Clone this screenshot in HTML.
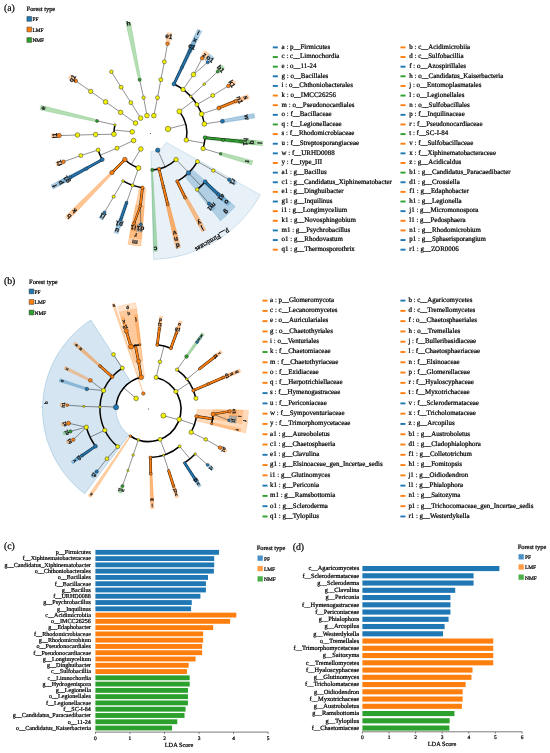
<!DOCTYPE html>
<html lang="en"><head><meta charset="utf-8"><title>LEfSe cladograms and LDA scores</title>
<style>html,body{margin:0;padding:0;background:#fff}svg{display:block}</style></head>
<body>
<svg width="550" height="753" viewBox="0 0 550 753" font-family='&quot;Liberation Serif&quot;,&quot;Times New Roman&quot;,serif' text-rendering="geometricPrecision" stroke-linejoin="round">
<rect width="550" height="753" fill="#fff"/>
<text x="3.9" y="11.3" font-size="9.8" fill="#000" stroke="#000" stroke-width="0.22">(a)</text>
<text x="3.9" y="283.7" font-size="9.8" fill="#000" stroke="#000" stroke-width="0.22">(b)</text>
<text x="4" y="548.7" font-size="9.8" fill="#000" stroke="#000" stroke-width="0.22">(c)</text>
<text x="292.7" y="549.6" font-size="9.8" fill="#000" stroke="#000" stroke-width="0.22">(d)</text>
<text x="26.6" y="11.3" font-size="6.4" fill="#000" stroke="#000" stroke-width="0.22">Forest type</text>
<rect x="26.9" y="16.5" width="4.8" height="4.8" fill="#1f77b4" stroke="#3a3a3a" stroke-width="0.5"/>
<text x="32.4" y="21.2" font-size="5.4" fill="#000" stroke="#000" stroke-width="0.22">PF</text>
<rect x="26.9" y="27.05" width="4.8" height="4.8" fill="#ff7f0e" stroke="#3a3a3a" stroke-width="0.5"/>
<text x="32.4" y="31.75" font-size="5.4" fill="#000" stroke="#000" stroke-width="0.22">LMF</text>
<rect x="26.9" y="37.6" width="4.8" height="4.8" fill="#2ca02c" stroke="#3a3a3a" stroke-width="0.5"/>
<text x="32.4" y="42.3" font-size="5.4" fill="#000" stroke="#000" stroke-width="0.22">NMF</text>
<text x="29.1" y="283.7" font-size="6.4" fill="#000" stroke="#000" stroke-width="0.22">Forest type</text>
<rect x="29.1" y="289" width="4.8" height="4.8" fill="#1f77b4" stroke="#3a3a3a" stroke-width="0.5"/>
<text x="34.6" y="293.7" font-size="5.4" fill="#000" stroke="#000" stroke-width="0.22">PF</text>
<rect x="29.1" y="299.55" width="4.8" height="4.8" fill="#ff7f0e" stroke="#3a3a3a" stroke-width="0.5"/>
<text x="34.6" y="304.25" font-size="5.4" fill="#000" stroke="#000" stroke-width="0.22">LMF</text>
<rect x="29.1" y="310.1" width="4.8" height="4.8" fill="#2ca02c" stroke="#3a3a3a" stroke-width="0.5"/>
<text x="34.6" y="314.8" font-size="5.4" fill="#000" stroke="#000" stroke-width="0.22">NMF</text>
<text x="256.7" y="550.4" font-size="6.4" fill="#000" stroke="#000" stroke-width="0.22">Forest type</text>
<rect x="257.8" y="555.8" width="4.8" height="4.8" fill="#4a90c9" stroke="#4a90c9" stroke-width="0.5"/>
<text x="264" y="560.5" font-size="5.4" fill="#000" stroke="#000" stroke-width="0.22">PF</text>
<rect x="257.8" y="566.15" width="4.8" height="4.8" fill="#ff9a45" stroke="#ff9a45" stroke-width="0.5"/>
<text x="264" y="570.85" font-size="5.4" fill="#000" stroke="#000" stroke-width="0.22">LMF</text>
<rect x="257.8" y="576.5" width="4.8" height="4.8" fill="#4db04d" stroke="#4db04d" stroke-width="0.5"/>
<text x="264" y="581.2" font-size="5.4" fill="#000" stroke="#000" stroke-width="0.22">NMF</text>
<text x="517.7" y="548.9" font-size="6.4" fill="#000" stroke="#000" stroke-width="0.22">Forest type</text>
<rect x="518.8" y="554.4" width="4.8" height="4.8" fill="#4a90c9" stroke="#4a90c9" stroke-width="0.5"/>
<text x="525" y="559.1" font-size="5.4" fill="#000" stroke="#000" stroke-width="0.22">PF</text>
<rect x="518.8" y="564.6" width="4.8" height="4.8" fill="#ff9a45" stroke="#ff9a45" stroke-width="0.5"/>
<text x="525" y="569.3" font-size="5.4" fill="#000" stroke="#000" stroke-width="0.22">LMF</text>
<rect x="518.8" y="574.8" width="4.8" height="4.8" fill="#4db04d" stroke="#4db04d" stroke-width="0.5"/>
<text x="525" y="579.5" font-size="5.4" fill="#000" stroke="#000" stroke-width="0.22">NMF</text>
<g>
<path d="M150.88 151.69L153.7 259.46A126 126 0 0 0 260.39 194.97L166.29 142.38A18.2 18.2 0 0 1 150.88 151.69Z" fill="#1f77b4" fill-opacity="0.1" stroke="#1f77b4" stroke-opacity="0.35" stroke-width="0.5"/>
<path d="M151.42 169.99L153.69 251.45A118 118 0 0 0 157.4 251.29L152.56 169.94A36.5 36.5 0 0 1 151.42 169.99Z" fill="#2ca02c" fill-opacity="0.35" stroke="#2ca02c" stroke-opacity="0.52" stroke-width="0.35"/>
<path d="M158.3 169.13L175.94 248.7A118 118 0 0 0 180.74 247.53L159.79 168.77A36.5 36.5 0 0 1 158.3 169.13Z" fill="#ff7f0e" fill-opacity="0.35" stroke="#ff7f0e" stroke-opacity="0.52" stroke-width="0.35"/>
<path d="M162.26 187L174.53 242.36A111.5 111.5 0 0 0 179.07 241.25L164.49 186.46A54.8 54.8 0 0 1 162.26 187Z" fill="#ff7f0e" fill-opacity="0.2" stroke="#ff7f0e" stroke-opacity="0.3" stroke-width="0.35"/>
<path d="M166.2 204.77L173.23 236.5A105.5 105.5 0 0 0 177.53 235.45L169.17 204.05A73 73 0 0 1 166.2 204.77Z" fill="#ff7f0e" fill-opacity="0.2" stroke="#ff7f0e" stroke-opacity="0.3" stroke-width="0.35"/>
<path d="M175.79 182.06L201.83 231.87A111 111 0 0 0 205.9 229.63L177.8 180.96A54.8 54.8 0 0 1 175.79 182.06Z" fill="#ff7f0e" fill-opacity="0.35" stroke="#ff7f0e" stroke-opacity="0.52" stroke-width="0.35"/>
<path d="M184.22 198.19L199.05 226.55A105 105 0 0 0 202.9 224.43L186.9 196.72A73 73 0 0 1 184.22 198.19Z" fill="#ff7f0e" fill-opacity="0.2" stroke="#ff7f0e" stroke-opacity="0.3" stroke-width="0.35"/>
<path d="M184.66 176.27L220.43 220.91A112 112 0 0 0 235.31 206.54L191.95 169.23A54.8 54.8 0 0 1 184.66 176.27Z" fill="#1f77b4" fill-opacity="0.28" stroke="#1f77b4" stroke-opacity="0.42" stroke-width="0.35"/>
<path d="M203.7 183.38L227.58 205.72A105.7 105.7 0 0 0 230.53 202.43L205.74 181.1A73 73 0 0 1 203.7 183.38Z" fill="#1f77b4" fill-opacity="0.3" stroke="#1f77b4" stroke-opacity="0.45" stroke-width="0.35"/>
<path d="M217.06 195.88L222.69 201.14A99 99 0 0 0 225.46 198.06L219.62 193.04A91.3 91.3 0 0 1 217.06 195.88Z" fill="#1f77b4" fill-opacity="0.2" stroke="#1f77b4" stroke-opacity="0.3" stroke-width="0.35"/>
<path d="M207.48 204.75L212.3 210.76A99 99 0 0 0 215.48 208.1L210.42 202.3A91.3 91.3 0 0 1 207.48 204.75Z" fill="#1f77b4" fill-opacity="0.25" stroke="#1f77b4" stroke-opacity="0.38" stroke-width="0.35"/>
<path d="M228.16 181.34L234.72 185.37A99 99 0 0 0 236.82 181.8L230.1 178.04A91.3 91.3 0 0 1 228.16 181.34Z" fill="#1f77b4" fill-opacity="0.3" stroke="#1f77b4" stroke-opacity="0.45" stroke-width="0.35"/>
<path d="M140.79 79.55L130.5 21.76A113.5 113.5 0 0 0 125.83 22.69L138.54 80A54.8 54.8 0 0 1 140.79 79.55Z" fill="#2ca02c" fill-opacity="0.35" stroke="#2ca02c" stroke-opacity="0.52" stroke-width="0.35"/>
<path d="M97.35 119.78L41 105.21A113 113 0 0 0 39.91 109.81L96.82 122.01A54.8 54.8 0 0 1 97.35 119.78Z" fill="#2ca02c" fill-opacity="0.35" stroke="#2ca02c" stroke-opacity="0.52" stroke-width="0.35"/>
<path d="M169.38 44.2L171.71 33.24A102.5 102.5 0 0 0 167.49 32.44L165.63 43.48A91.3 91.3 0 0 1 169.38 44.2Z" fill="#ff7f0e" fill-opacity="0.35" stroke="#ff7f0e" stroke-opacity="0.52" stroke-width="0.35"/>
<path d="M76.91 79.32L70.72 74.75A99 99 0 0 0 68.33 78.14L74.71 82.45A91.3 91.3 0 0 1 76.91 79.32Z" fill="#ff7f0e" fill-opacity="0.35" stroke="#ff7f0e" stroke-opacity="0.52" stroke-width="0.35"/>
<path d="M59.1 133.66L51.4 133.67A99 99 0 0 0 51.49 137.82L59.19 137.48A91.3 91.3 0 0 1 59.1 133.66Z" fill="#ff7f0e" fill-opacity="0.35" stroke="#ff7f0e" stroke-opacity="0.52" stroke-width="0.35"/>
<path d="M63 159.89L55.63 162.11A99 99 0 0 0 56.91 166.06L64.18 163.53A91.3 91.3 0 0 1 63 159.89Z" fill="#ff7f0e" fill-opacity="0.35" stroke="#ff7f0e" stroke-opacity="0.52" stroke-width="0.35"/>
<path d="M101.75 158.72L50.96 185.04A112 112 0 0 0 53.21 189.16L102.85 160.73A54.8 54.8 0 0 1 101.75 158.72Z" fill="#1f77b4" fill-opacity="0.35" stroke="#1f77b4" stroke-opacity="0.52" stroke-width="0.35"/>
<path d="M85.59 167.09L56.74 182.05A105.5 105.5 0 0 0 58.85 185.93L87.05 169.78A73 73 0 0 1 85.59 167.09Z" fill="#1f77b4" fill-opacity="0.2" stroke="#1f77b4" stroke-opacity="0.3" stroke-width="0.35"/>
<path d="M69.34 175.52L62.51 179.06A99 99 0 0 0 64.49 182.7L71.17 178.87A91.3 91.3 0 0 1 69.34 175.52Z" fill="#1f77b4" fill-opacity="0.2" stroke="#1f77b4" stroke-opacity="0.3" stroke-width="0.35"/>
<path d="M124.28 158.99L65.23 216.61A119 119 0 0 0 68.79 220.1L125.37 160.06A36.5 36.5 0 0 1 124.28 158.99Z" fill="#ff7f0e" fill-opacity="0.35" stroke="#ff7f0e" stroke-opacity="0.52" stroke-width="0.35"/>
<path d="M111.18 171.77L70.24 211.72A112 112 0 0 0 73.59 215.01L112.82 173.38A54.8 54.8 0 0 1 111.18 171.77Z" fill="#ff7f0e" fill-opacity="0.15" stroke="#ff7f0e" stroke-opacity="0.22" stroke-width="0.35"/>
<path d="M102.83 211.43L98.82 218A99 99 0 0 0 102.4 220.09L106.14 213.35A91.3 91.3 0 0 1 102.83 211.43Z" fill="#1f77b4" fill-opacity="0.35" stroke="#1f77b4" stroke-opacity="0.52" stroke-width="0.35"/>
<path d="M125.19 202.01L113.97 232.51A105.5 105.5 0 0 0 118.15 233.95L128.08 203.01A73 73 0 0 1 125.19 202.01Z" fill="#1f77b4" fill-opacity="0.35" stroke="#1f77b4" stroke-opacity="0.52" stroke-width="0.35"/>
<path d="M118.87 219.18L116.22 226.41A99 99 0 0 0 120.14 227.76L122.49 220.43A91.3 91.3 0 0 1 118.87 219.18Z" fill="#1f77b4" fill-opacity="0.2" stroke="#1f77b4" stroke-opacity="0.3" stroke-width="0.35"/>
<path d="M139.47 187.2L127.87 244.23A113 113 0 0 0 140.94 246.1L145.81 188.11A54.8 54.8 0 0 1 139.47 187.2Z" fill="#ff7f0e" fill-opacity="0.35" stroke="#ff7f0e" stroke-opacity="0.52" stroke-width="0.35"/>
<path d="M135.85 205.03L129.27 237.37A106 106 0 0 0 141.53 239.13L144.29 206.24A73 73 0 0 1 135.85 205.03Z" fill="#ff7f0e" fill-opacity="0.25" stroke="#ff7f0e" stroke-opacity="0.38" stroke-width="0.35"/>
<path d="M132.2 222.97L130.66 230.51A99 99 0 0 0 136.37 231.5L137.46 223.88A91.3 91.3 0 0 1 132.2 222.97Z" fill="#ff7f0e" fill-opacity="0.25" stroke="#ff7f0e" stroke-opacity="0.38" stroke-width="0.35"/>
<path d="M137.46 223.88L136.37 231.5A99 99 0 0 0 142.12 232.15L142.76 224.48A91.3 91.3 0 0 1 137.46 223.88Z" fill="#1f77b4" fill-opacity="0.3" stroke="#1f77b4" stroke-opacity="0.45" stroke-width="0.35"/>
<path d="M175.02 84.54L201.85 31.21A114.5 114.5 0 0 0 197.52 29.14L172.95 83.56A54.8 54.8 0 0 1 175.02 84.54Z" fill="#1f77b4" fill-opacity="0.35" stroke="#1f77b4" stroke-opacity="0.52" stroke-width="0.35"/>
<path d="M183.2 68.28L198.7 37.46A107.5 107.5 0 0 0 194.64 35.52L180.44 66.97A73 73 0 0 1 183.2 68.28Z" fill="#1f77b4" fill-opacity="0.2" stroke="#1f77b4" stroke-opacity="0.3" stroke-width="0.35"/>
<path d="M191.42 51.94L195.33 44.16A100 100 0 0 0 191.55 42.36L187.97 50.29A91.3 91.3 0 0 1 191.42 51.94Z" fill="#1f77b4" fill-opacity="0.2" stroke="#1f77b4" stroke-opacity="0.3" stroke-width="0.35"/>
<path d="M204.9 60.25L209.5 54.07A99 99 0 0 0 204.75 50.76L200.53 57.19A91.3 91.3 0 0 1 204.9 60.25Z" fill="#ff7f0e" fill-opacity="0.35" stroke="#ff7f0e" stroke-opacity="0.52" stroke-width="0.35"/>
<path d="M209.09 63.56L214.04 57.66A99 99 0 0 0 209.5 54.07L204.9 60.25A91.3 91.3 0 0 1 209.09 63.56Z" fill="#1f77b4" fill-opacity="0.35" stroke="#1f77b4" stroke-opacity="0.52" stroke-width="0.35"/>
<path d="M218.89 73.12L224.66 68.03A99 99 0 0 0 221.85 64.98L216.3 70.31A91.3 91.3 0 0 1 218.89 73.12Z" fill="#2ca02c" fill-opacity="0.35" stroke="#2ca02c" stroke-opacity="0.52" stroke-width="0.35"/>
<path d="M229.31 87.57L235.96 83.7A99 99 0 0 0 233.8 80.16L227.32 84.31A91.3 91.3 0 0 1 229.31 87.57Z" fill="#ff7f0e" fill-opacity="0.35" stroke="#ff7f0e" stroke-opacity="0.52" stroke-width="0.35"/>
<path d="M219.26 109.25L249.44 98.62A105 105 0 0 0 247.89 94.51L218.18 106.39A73 73 0 0 1 219.26 109.25Z" fill="#ff7f0e" fill-opacity="0.35" stroke="#ff7f0e" stroke-opacity="0.52" stroke-width="0.35"/>
<path d="M236.52 103.17L243.78 100.62A99 99 0 0 0 242.32 96.73L235.17 99.59A91.3 91.3 0 0 1 236.52 103.17Z" fill="#ff7f0e" fill-opacity="0.2" stroke="#ff7f0e" stroke-opacity="0.3" stroke-width="0.35"/>
<path d="M222.6 122.71L254.74 117.91A105.5 105.5 0 0 0 254 113.55L222.08 119.7A73 73 0 0 1 222.6 122.71Z" fill="#1f77b4" fill-opacity="0.38" stroke="#1f77b4" stroke-opacity="0.57" stroke-width="0.35"/>
<path d="M204.88 139.42L262.34 145.66A112.6 112.6 0 0 0 262.75 140.96L205.08 137.13A54.8 54.8 0 0 1 204.88 139.42Z" fill="#2ca02c" fill-opacity="0.35" stroke="#2ca02c" stroke-opacity="0.52" stroke-width="0.35"/>
<path d="M222.97 141.38L255.28 144.89A105.5 105.5 0 0 0 255.67 140.49L223.24 138.34A73 73 0 0 1 222.97 141.38Z" fill="#2ca02c" fill-opacity="0.2" stroke="#2ca02c" stroke-opacity="0.3" stroke-width="0.35"/>
<path d="M241.17 143.36L248.82 144.19A99 99 0 0 0 249.18 140.06L241.5 139.55A91.3 91.3 0 0 1 241.17 143.36Z" fill="#2ca02c" fill-opacity="0.2" stroke="#2ca02c" stroke-opacity="0.3" stroke-width="0.35"/>
<path d="M220.1 155.21L251.6 165.02A106 106 0 0 0 252.84 160.76L220.95 152.27A73 73 0 0 1 220.1 155.21Z" fill="#2ca02c" fill-opacity="0.35" stroke="#2ca02c" stroke-opacity="0.52" stroke-width="0.35"/>
</g><g>
<line x1="146.93" y1="115.63" x2="143.62" y2="97.63" stroke="#222" stroke-width="0.5" stroke-linecap="butt"/>
<line x1="143.62" y1="97.63" x2="139.66" y2="79.76" stroke="#222" stroke-width="0.5" stroke-linecap="butt"/>
<line x1="153.87" y1="115.63" x2="157.49" y2="97.7" stroke="#222" stroke-width="0.5" stroke-linecap="butt"/>
<line x1="157.49" y1="97.7" x2="160.86" y2="79.71" stroke="#222" stroke-width="0.5" stroke-linecap="butt"/>
<line x1="160.86" y1="79.71" x2="164.33" y2="61.84" stroke="#222" stroke-width="0.5" stroke-linecap="butt"/>
<line x1="164.33" y1="61.84" x2="167.51" y2="43.82" stroke="#222" stroke-width="0.5" stroke-linecap="butt"/>
<line x1="140.65" y1="118.13" x2="130.9" y2="102.65" stroke="#222" stroke-width="0.5" stroke-linecap="butt"/>
<line x1="130.9" y1="102.65" x2="121.12" y2="87.18" stroke="#222" stroke-width="0.5" stroke-linecap="butt"/>
<line x1="121.12" y1="87.18" x2="111.39" y2="71.8" stroke="#222" stroke-width="0.5" stroke-linecap="butt"/>
<line x1="135.51" y1="123.03" x2="120.65" y2="112.36" stroke="#222" stroke-width="0.5" stroke-linecap="butt"/>
<line x1="120.65" y1="112.36" x2="105.62" y2="101.91" stroke="#222" stroke-width="0.5" stroke-linecap="butt"/>
<line x1="105.62" y1="101.91" x2="90.75" y2="91.42" stroke="#222" stroke-width="0.5" stroke-linecap="butt"/>
<line x1="90.75" y1="91.42" x2="75.79" y2="80.87" stroke="#222" stroke-width="0.5" stroke-linecap="butt"/>
<line x1="132.28" y1="131.79" x2="114.06" y2="130.07" stroke="#222" stroke-width="0.5" stroke-linecap="butt"/>
<path d="M114.92 124.92A36.5 36.5 0 0 0 113.91 134.2" fill="none" stroke="#000" stroke-width="1.5" stroke-linecap="round"/>
<line x1="114.92" y1="124.92" x2="97.07" y2="120.89" stroke="#222" stroke-width="0.5" stroke-linecap="butt"/>
<line x1="113.91" y1="134.2" x2="95.61" y2="134.55" stroke="#222" stroke-width="0.5" stroke-linecap="butt"/>
<line x1="95.61" y1="134.55" x2="77.42" y2="135.03" stroke="#222" stroke-width="0.5" stroke-linecap="butt"/>
<line x1="77.42" y1="135.03" x2="59.12" y2="135.57" stroke="#222" stroke-width="0.5" stroke-linecap="butt"/>
<line x1="133.6" y1="140.49" x2="116.98" y2="148.17" stroke="#222" stroke-width="0.5" stroke-linecap="butt"/>
<line x1="116.98" y1="148.17" x2="100.11" y2="155.26" stroke="#222" stroke-width="0.5" stroke-linecap="butt"/>
<path d="M98.14 149.98A54.8 54.8 0 0 0 102.2 159.56" fill="none" stroke="#000" stroke-width="1.5" stroke-linecap="round"/>
<line x1="98.14" y1="149.98" x2="80.82" y2="155.57" stroke="#222" stroke-width="0.5" stroke-linecap="butt"/>
<line x1="80.82" y1="155.57" x2="63.57" y2="161.71" stroke="#222" stroke-width="0.5" stroke-linecap="butt"/>
<line x1="102.2" y1="159.56" x2="70.32" y2="177.34" stroke="#1a1a1a" stroke-width="2.7" stroke-linecap="round"/>
<line x1="102.2" y1="159.56" x2="70.32" y2="177.34" stroke="#1f77b4" stroke-width="1.85" stroke-linecap="round"/>
<line x1="140.84" y1="148.98" x2="131.22" y2="164.55" stroke="#222" stroke-width="0.5" stroke-linecap="butt"/>
<path d="M124.86 159.58A36.5 36.5 0 0 0 138.52 168.01" fill="none" stroke="#000" stroke-width="1.5" stroke-linecap="round"/>
<line x1="124.86" y1="159.58" x2="111.99" y2="172.59" stroke="#1a1a1a" stroke-width="2.7" stroke-linecap="round"/>
<line x1="124.86" y1="159.58" x2="111.99" y2="172.59" stroke="#ff7f0e" stroke-width="1.85" stroke-linecap="round"/>
<line x1="138.52" y1="168.01" x2="132.56" y2="185.31" stroke="#222" stroke-width="0.5" stroke-linecap="butt"/>
<path d="M123 180.96A54.8 54.8 0 0 0 142.49 187.73" fill="none" stroke="#000" stroke-width="1.5" stroke-linecap="round"/>
<line x1="123" y1="180.96" x2="113.68" y2="196.59" stroke="#222" stroke-width="0.5" stroke-linecap="butt"/>
<line x1="113.68" y1="196.59" x2="104.47" y2="212.41" stroke="#222" stroke-width="0.5" stroke-linecap="butt"/>
<line x1="132.56" y1="185.31" x2="126.63" y2="202.52" stroke="#222" stroke-width="0.5" stroke-linecap="butt"/>
<line x1="126.63" y1="202.52" x2="120.68" y2="219.83" stroke="#1a1a1a" stroke-width="2.7" stroke-linecap="round"/>
<line x1="126.63" y1="202.52" x2="120.68" y2="219.83" stroke="#1f77b4" stroke-width="1.85" stroke-linecap="round"/>
<line x1="142.49" y1="187.73" x2="140.37" y2="205.81" stroke="#1a1a1a" stroke-width="2.7" stroke-linecap="round"/>
<line x1="142.49" y1="187.73" x2="140.37" y2="205.81" stroke="#ff7f0e" stroke-width="1.85" stroke-linecap="round"/>
<line x1="140.37" y1="205.81" x2="134.08" y2="223.33" stroke="#1a1a1a" stroke-width="2.15" stroke-linecap="round"/>
<line x1="140.37" y1="205.81" x2="134.08" y2="223.33" stroke="#ff7f0e" stroke-width="1.3" stroke-linecap="round"/>
<line x1="140.37" y1="205.81" x2="140.86" y2="224.3" stroke="#222" stroke-width="0.5" stroke-linecap="butt"/>
<line x1="157.74" y1="150.15" x2="165.13" y2="166.9" stroke="#222" stroke-width="0.5" stroke-linecap="butt"/>
<path d="M152.31 169.95A36.5 36.5 0 0 0 176.03 159.49" fill="none" stroke="#000" stroke-width="1.5" stroke-linecap="round"/>
<line x1="159.04" y1="168.96" x2="167.69" y2="204.42" stroke="#1a1a1a" stroke-width="2.7" stroke-linecap="round"/>
<line x1="159.04" y1="168.96" x2="167.69" y2="204.42" stroke="#ff7f0e" stroke-width="1.85" stroke-linecap="round"/>
<line x1="176.03" y1="159.49" x2="188.74" y2="172.65" stroke="#222" stroke-width="0.5" stroke-linecap="butt"/>
<path d="M177.22 181.29A54.8 54.8 0 0 0 197.47 161.56" fill="none" stroke="#000" stroke-width="1.5" stroke-linecap="round"/>
<line x1="177.22" y1="181.29" x2="185.12" y2="197.71" stroke="#1a1a1a" stroke-width="2.7" stroke-linecap="round"/>
<line x1="177.22" y1="181.29" x2="185.12" y2="197.71" stroke="#ff7f0e" stroke-width="1.85" stroke-linecap="round"/>
<line x1="188.47" y1="172.92" x2="201.11" y2="186.01" stroke="#222" stroke-width="0.5" stroke-linecap="butt"/>
<path d="M197.13 189.58A73 73 0 0 0 205.16 181.78" fill="none" stroke="#000" stroke-width="1.5" stroke-linecap="round"/>
<line x1="197.13" y1="189.58" x2="208.96" y2="203.54" stroke="#222" stroke-width="0.5" stroke-linecap="butt"/>
<line x1="205.16" y1="181.78" x2="218.36" y2="194.47" stroke="#1a1a1a" stroke-width="2.7" stroke-linecap="round"/>
<line x1="205.16" y1="181.78" x2="218.36" y2="194.47" stroke="#1f77b4" stroke-width="1.85" stroke-linecap="round"/>
<line x1="197.47" y1="161.56" x2="213.3" y2="170.55" stroke="#222" stroke-width="0.5" stroke-linecap="butt"/>
<line x1="213.3" y1="170.55" x2="229.15" y2="179.7" stroke="#222" stroke-width="0.5" stroke-linecap="butt"/>
<line x1="168.01" y1="128.91" x2="185.72" y2="124.3" stroke="#222" stroke-width="0.5" stroke-linecap="butt"/>
<path d="M186.32 139.96A36.5 36.5 0 0 0 179.43 111.38" fill="none" stroke="#000" stroke-width="1.5" stroke-linecap="round"/>
<line x1="179.43" y1="111.38" x2="193.99" y2="100.29" stroke="#222" stroke-width="0.5" stroke-linecap="butt"/>
<path d="M204.37 123.98A54.8 54.8 0 0 0 173.99 84.04" fill="none" stroke="#000" stroke-width="1.5" stroke-linecap="round"/>
<line x1="173.99" y1="84.04" x2="192.16" y2="45.95" stroke="#1a1a1a" stroke-width="2.7" stroke-linecap="round"/>
<line x1="173.99" y1="84.04" x2="192.16" y2="45.95" stroke="#1f77b4" stroke-width="1.85" stroke-linecap="round"/>
<line x1="183.07" y1="89.51" x2="193.51" y2="74.59" stroke="#222" stroke-width="0.5" stroke-linecap="butt"/>
<line x1="193.51" y1="74.59" x2="202.11" y2="58.26" stroke="#222" stroke-width="0.5" stroke-linecap="butt"/>
<line x1="193.51" y1="74.59" x2="207.61" y2="62.35" stroke="#222" stroke-width="0.5" stroke-linecap="butt"/>
<line x1="190.8" y1="96.48" x2="204.22" y2="84.18" stroke="#222" stroke-width="0.5" stroke-linecap="butt"/>
<line x1="204.22" y1="84.18" x2="217.61" y2="71.7" stroke="#222" stroke-width="0.5" stroke-linecap="butt"/>
<line x1="196.92" y1="104.54" x2="212.71" y2="95.47" stroke="#222" stroke-width="0.5" stroke-linecap="butt"/>
<line x1="212.71" y1="95.47" x2="228.33" y2="85.93" stroke="#222" stroke-width="0.5" stroke-linecap="butt"/>
<line x1="201.63" y1="114.04" x2="218.82" y2="108.05" stroke="#222" stroke-width="0.5" stroke-linecap="butt"/>
<line x1="218.82" y1="108.05" x2="235.75" y2="101.08" stroke="#1a1a1a" stroke-width="2.7" stroke-linecap="round"/>
<line x1="218.82" y1="108.05" x2="235.75" y2="101.08" stroke="#ff7f0e" stroke-width="1.85" stroke-linecap="round"/>
<line x1="204.37" y1="123.98" x2="222.36" y2="121.2" stroke="#222" stroke-width="0.5" stroke-linecap="butt"/>
<line x1="186.32" y1="139.96" x2="204.33" y2="143.2" stroke="#222" stroke-width="0.5" stroke-linecap="butt"/>
<path d="M203.1 148.51A54.8 54.8 0 0 0 205.05 137.61" fill="none" stroke="#000" stroke-width="1.5" stroke-linecap="round"/>
<line x1="205.05" y1="137.61" x2="241.35" y2="141.46" stroke="#1a1a1a" stroke-width="2.7" stroke-linecap="round"/>
<line x1="205.05" y1="137.61" x2="241.35" y2="141.46" stroke="#2ca02c" stroke-width="1.85" stroke-linecap="round"/>
<line x1="203.1" y1="148.51" x2="220.54" y2="153.74" stroke="#222" stroke-width="0.5" stroke-linecap="butt"/>
</g><g>
<circle cx="150.4" cy="133.5" r="0.55" fill="#333"/>
<circle cx="146.93" cy="115.63" r="2.35" fill="#f2f200" stroke="#222" stroke-width="0.45"/>
<circle cx="153.87" cy="115.63" r="2.35" fill="#f2f200" stroke="#222" stroke-width="0.45"/>
<circle cx="140.65" cy="118.13" r="2.35" fill="#f2f200" stroke="#222" stroke-width="0.45"/>
<circle cx="135.51" cy="123.03" r="2.35" fill="#f2f200" stroke="#222" stroke-width="0.45"/>
<circle cx="132.28" cy="131.79" r="2.35" fill="#f2f200" stroke="#222" stroke-width="0.45"/>
<circle cx="133.6" cy="140.49" r="2.35" fill="#f2f200" stroke="#222" stroke-width="0.45"/>
<circle cx="140.84" cy="148.98" r="2.35" fill="#f2f200" stroke="#222" stroke-width="0.45"/>
<circle cx="168.01" cy="128.91" r="2.7" fill="#f2f200" stroke="#222" stroke-width="0.45"/>
<circle cx="157.74" cy="150.15" r="2.2" fill="#1f77b4" stroke="#222" stroke-width="0.45"/>
<circle cx="143.62" cy="97.63" r="1.7" fill="#f2f200" stroke="#222" stroke-width="0.45"/>
<circle cx="157.49" cy="97.7" r="2" fill="#f2f200" stroke="#222" stroke-width="0.45"/>
<circle cx="130.9" cy="102.65" r="2" fill="#f2f200" stroke="#222" stroke-width="0.45"/>
<circle cx="120.65" cy="112.36" r="2.3" fill="#f2f200" stroke="#222" stroke-width="0.45"/>
<circle cx="114.92" cy="124.92" r="1.2" fill="#f2f200" stroke="#222" stroke-width="0.45"/>
<circle cx="113.91" cy="134.2" r="2.4" fill="#f2f200" stroke="#222" stroke-width="0.45"/>
<circle cx="116.98" cy="148.17" r="2.1" fill="#f2f200" stroke="#222" stroke-width="0.45"/>
<circle cx="124.86" cy="159.58" r="2.3" fill="#ff7f0e" stroke="#222" stroke-width="0.45"/>
<circle cx="138.52" cy="168.01" r="2.5" fill="#f2f200" stroke="#222" stroke-width="0.45"/>
<circle cx="152.31" cy="169.95" r="1.6" fill="#2ca02c" stroke="#222" stroke-width="0.45"/>
<circle cx="159.04" cy="168.96" r="1.8" fill="#ff7f0e" stroke="#222" stroke-width="0.45"/>
<circle cx="176.03" cy="159.49" r="2.2" fill="#f2f200" stroke="#222" stroke-width="0.45"/>
<circle cx="186.32" cy="139.96" r="2.3" fill="#f2f200" stroke="#222" stroke-width="0.45"/>
<circle cx="179.43" cy="111.38" r="2.5" fill="#f2f200" stroke="#222" stroke-width="0.45"/>
<circle cx="139.66" cy="79.76" r="1.6" fill="#2ca02c" stroke="#222" stroke-width="0.45"/>
<circle cx="160.86" cy="79.71" r="2" fill="#f2f200" stroke="#222" stroke-width="0.45"/>
<circle cx="121.12" cy="87.18" r="2" fill="#f2f200" stroke="#222" stroke-width="0.45"/>
<circle cx="105.62" cy="101.91" r="2.4" fill="#f2f200" stroke="#222" stroke-width="0.45"/>
<circle cx="97.07" cy="120.89" r="1.5" fill="#2ca02c" stroke="#222" stroke-width="0.45"/>
<circle cx="95.61" cy="134.55" r="2.3" fill="#f2f200" stroke="#222" stroke-width="0.45"/>
<circle cx="98.14" cy="149.98" r="2" fill="#f2f200" stroke="#222" stroke-width="0.45"/>
<circle cx="102.2" cy="159.56" r="2" fill="#1f77b4" stroke="#222" stroke-width="0.45"/>
<circle cx="111.99" cy="172.59" r="2.2" fill="#ff7f0e" stroke="#222" stroke-width="0.45"/>
<circle cx="123" cy="180.96" r="1.3" fill="#f2f200" stroke="#222" stroke-width="0.45"/>
<circle cx="132.56" cy="185.31" r="1.6" fill="#f2f200" stroke="#222" stroke-width="0.45"/>
<circle cx="142.49" cy="187.73" r="1.7" fill="#ff7f0e" stroke="#222" stroke-width="0.45"/>
<circle cx="177.22" cy="181.29" r="1.6" fill="#ff7f0e" stroke="#222" stroke-width="0.45"/>
<circle cx="188.47" cy="172.92" r="2.2" fill="#1f77b4" stroke="#222" stroke-width="0.45"/>
<circle cx="197.47" cy="161.56" r="2" fill="#f2f200" stroke="#222" stroke-width="0.45"/>
<circle cx="173.99" cy="84.04" r="2" fill="#1f77b4" stroke="#222" stroke-width="0.45"/>
<circle cx="183.07" cy="89.51" r="2.2" fill="#f2f200" stroke="#222" stroke-width="0.45"/>
<circle cx="190.8" cy="96.48" r="1.2" fill="#f2f200" stroke="#222" stroke-width="0.45"/>
<circle cx="196.92" cy="104.54" r="2" fill="#f2f200" stroke="#222" stroke-width="0.45"/>
<circle cx="201.63" cy="114.04" r="2.4" fill="#f2f200" stroke="#222" stroke-width="0.45"/>
<circle cx="204.37" cy="123.98" r="2.4" fill="#f2f200" stroke="#222" stroke-width="0.45"/>
<circle cx="205.05" cy="137.61" r="1.9" fill="#2ca02c" stroke="#222" stroke-width="0.45"/>
<circle cx="203.1" cy="148.51" r="2.2" fill="#f2f200" stroke="#222" stroke-width="0.45"/>
<circle cx="164.33" cy="61.84" r="2" fill="#f2f200" stroke="#222" stroke-width="0.45"/>
<circle cx="111.39" cy="71.8" r="1.8" fill="#f2f200" stroke="#222" stroke-width="0.45"/>
<circle cx="90.75" cy="91.42" r="2.2" fill="#f2f200" stroke="#222" stroke-width="0.45"/>
<circle cx="77.42" cy="135.03" r="2.3" fill="#f2f200" stroke="#222" stroke-width="0.45"/>
<circle cx="80.82" cy="155.57" r="2" fill="#f2f200" stroke="#222" stroke-width="0.45"/>
<circle cx="86.43" cy="168.67" r="1.7" fill="#1f77b4" stroke="#222" stroke-width="0.45"/>
<circle cx="113.68" cy="196.59" r="1.6" fill="#f2f200" stroke="#222" stroke-width="0.45"/>
<circle cx="126.63" cy="202.52" r="1.3" fill="#1f77b4" stroke="#222" stroke-width="0.45"/>
<circle cx="140.37" cy="205.81" r="1.6" fill="#ff7f0e" stroke="#222" stroke-width="0.45"/>
<circle cx="167.69" cy="204.42" r="1.5" fill="#ff7f0e" stroke="#222" stroke-width="0.45"/>
<circle cx="185.12" cy="197.71" r="1.5" fill="#ff7f0e" stroke="#222" stroke-width="0.45"/>
<circle cx="163.38" cy="186.74" r="1.5" fill="#ff7f0e" stroke="#222" stroke-width="0.45"/>
<circle cx="197.13" cy="189.58" r="1.8" fill="#f2f200" stroke="#222" stroke-width="0.45"/>
<circle cx="205.16" cy="181.78" r="2" fill="#1f77b4" stroke="#222" stroke-width="0.45"/>
<circle cx="213.3" cy="170.55" r="1.8" fill="#f2f200" stroke="#222" stroke-width="0.45"/>
<circle cx="181.83" cy="67.61" r="1.5" fill="#1f77b4" stroke="#222" stroke-width="0.45"/>
<circle cx="193.51" cy="74.59" r="2.3" fill="#f2f200" stroke="#222" stroke-width="0.45"/>
<circle cx="204.22" cy="84.18" r="1.3" fill="#f2f200" stroke="#222" stroke-width="0.45"/>
<circle cx="212.71" cy="95.47" r="2" fill="#f2f200" stroke="#222" stroke-width="0.45"/>
<circle cx="218.82" cy="108.05" r="2" fill="#ff7f0e" stroke="#222" stroke-width="0.45"/>
<circle cx="222.36" cy="121.2" r="2" fill="#1f77b4" stroke="#222" stroke-width="0.45"/>
<circle cx="223.11" cy="139.99" r="1.6" fill="#2ca02c" stroke="#222" stroke-width="0.45"/>
<circle cx="220.54" cy="153.74" r="1.3" fill="#2ca02c" stroke="#222" stroke-width="0.45"/>
<circle cx="167.51" cy="43.82" r="1.8" fill="#ff7f0e" stroke="#222" stroke-width="0.45"/>
<circle cx="75.79" cy="80.87" r="1.8" fill="#ff7f0e" stroke="#222" stroke-width="0.45"/>
<circle cx="59.12" cy="135.57" r="2.2" fill="#ff7f0e" stroke="#222" stroke-width="0.45"/>
<circle cx="63.57" cy="161.71" r="1.8" fill="#ff7f0e" stroke="#222" stroke-width="0.45"/>
<circle cx="70.32" cy="177.34" r="1.5" fill="#1f77b4" stroke="#222" stroke-width="0.45"/>
<circle cx="104.47" cy="212.41" r="1.5" fill="#1f77b4" stroke="#222" stroke-width="0.45"/>
<circle cx="120.68" cy="219.83" r="1.3" fill="#1f77b4" stroke="#222" stroke-width="0.45"/>
<circle cx="134.08" cy="223.33" r="1.5" fill="#ff7f0e" stroke="#222" stroke-width="0.45"/>
<circle cx="140.86" cy="224.3" r="1.5" fill="#1f77b4" stroke="#222" stroke-width="0.45"/>
<circle cx="208.96" cy="203.54" r="1.6" fill="#1f77b4" stroke="#222" stroke-width="0.45"/>
<circle cx="218.36" cy="194.47" r="1.7" fill="#1f77b4" stroke="#222" stroke-width="0.45"/>
<circle cx="229.15" cy="179.7" r="1.7" fill="#1f77b4" stroke="#222" stroke-width="0.45"/>
<circle cx="189.71" cy="51.09" r="1.5" fill="#1f77b4" stroke="#222" stroke-width="0.45"/>
<circle cx="202.11" cy="58.26" r="1.8" fill="#ff7f0e" stroke="#222" stroke-width="0.45"/>
<circle cx="207.61" cy="62.35" r="1.5" fill="#1f77b4" stroke="#222" stroke-width="0.45"/>
<circle cx="217.61" cy="71.7" r="1.4" fill="#2ca02c" stroke="#222" stroke-width="0.45"/>
<circle cx="228.33" cy="85.93" r="1.8" fill="#ff7f0e" stroke="#222" stroke-width="0.45"/>
<circle cx="235.75" cy="101.08" r="1.7" fill="#ff7f0e" stroke="#222" stroke-width="0.45"/>
<circle cx="241.35" cy="141.46" r="1.5" fill="#2ca02c" stroke="#222" stroke-width="0.45"/>
</g><g font-family='&quot;Liberation Sans&quot;,Arial,sans-serif'>
<text font-family='&quot;Liberation Serif&quot;,&quot;Times New Roman&quot;,serif' transform="translate(212.39 240.43) rotate(149.9)" font-size="6.7" font-weight="normal" text-anchor="middle" dy="0.35em" fill="#111" stroke="#111" stroke-width="0.32">p__Firmicutes</text>
<text transform="translate(155.44 248.89) rotate(177.5)" font-size="6.5" font-weight="bold" text-anchor="middle" dy="0.35em" fill="#111" stroke="#111" stroke-width="0.2">c</text>
<text transform="translate(177.75 245.71) rotate(166.3)" font-size="6.5" font-weight="bold" text-anchor="middle" dy="0.35em" fill="#111" stroke="#111" stroke-width="0.2">d</text>
<text transform="translate(176.22 239.4) rotate(166.3)" font-size="6.5" font-weight="bold" text-anchor="middle" dy="0.35em" fill="#111" stroke="#111" stroke-width="0.2">n</text>
<text transform="translate(174.7 233.18) rotate(166.3)" font-size="6.5" font-weight="bold" text-anchor="middle" dy="0.35em" fill="#111" stroke="#111" stroke-width="0.2">v</text>
<text transform="translate(202.67 228.58) rotate(151.2)" font-size="6.5" font-weight="bold" text-anchor="middle" dy="0.35em" fill="#111" stroke="#111" stroke-width="0.2">j</text>
<text transform="translate(199.54 222.88) rotate(151.2)" font-size="6.5" font-weight="bold" text-anchor="middle" dy="0.35em" fill="#111" stroke="#111" stroke-width="0.2">y</text>
<text transform="translate(226.33 212.12) rotate(136)" font-size="6.5" font-weight="bold" text-anchor="middle" dy="0.35em" fill="#111" stroke="#111" stroke-width="0.2">g</text>
<text transform="translate(226.77 202.02) rotate(131.9)" font-size="6.5" font-weight="bold" text-anchor="middle" dy="0.35em" fill="#111" stroke="#111" stroke-width="0.2">o</text>
<text transform="translate(221.56 197.34) rotate(131.9)" font-size="6.5" font-weight="bold" text-anchor="middle" dy="0.35em" fill="#111" stroke="#111" stroke-width="0.2">a1</text>
<text transform="translate(211.72 206.84) rotate(140.1)" font-size="6.5" font-weight="bold" text-anchor="middle" dy="0.35em" fill="#111" stroke="#111" stroke-width="0.2">m1</text>
<text transform="translate(232.86 181.88) rotate(120.4)" font-size="6.5" font-weight="bold" text-anchor="middle" dy="0.35em" fill="#111" stroke="#111" stroke-width="0.2">r1</text>
<text transform="translate(128.4 23.38) rotate(-11.3)" font-size="6.5" font-weight="bold" text-anchor="middle" dy="0.35em" fill="#111" stroke="#111" stroke-width="0.2">h</text>
<text transform="translate(42.86 108.08) rotate(-76.7)" font-size="6.5" font-weight="bold" text-anchor="middle" dy="0.35em" fill="#111" stroke="#111" stroke-width="0.2">e</text>
<text transform="translate(168.95 36.25) rotate(10.8)" font-size="6.5" font-weight="bold" text-anchor="middle" dy="0.35em" fill="#111" stroke="#111" stroke-width="0.2">e1</text>
<text transform="translate(72.28 78.39) rotate(-54.8)" font-size="6.5" font-weight="bold" text-anchor="middle" dy="0.35em" fill="#111" stroke="#111" stroke-width="0.2">q1</text>
<text transform="translate(54.82 135.67) rotate(-91.3)" font-size="6.5" font-weight="bold" text-anchor="middle" dy="0.35em" fill="#111" stroke="#111" stroke-width="0.2">l1</text>
<text transform="translate(59.48 163.04) rotate(-108)" font-size="6.5" font-weight="bold" text-anchor="middle" dy="0.35em" fill="#111" stroke="#111" stroke-width="0.2">f1</text>
<text transform="translate(54.79 185.84) rotate(-118.7)" font-size="6.5" font-weight="bold" text-anchor="middle" dy="0.35em" fill="#111" stroke="#111" stroke-width="0.2">f</text>
<text transform="translate(60.4 182.77) rotate(-118.7)" font-size="6.5" font-weight="bold" text-anchor="middle" dy="0.35em" fill="#111" stroke="#111" stroke-width="0.2">p</text>
<text transform="translate(66.54 179.41) rotate(-118.7)" font-size="6.5" font-weight="bold" text-anchor="middle" dy="0.35em" fill="#111" stroke="#111" stroke-width="0.2">g1</text>
<text transform="translate(69.09 216.24) rotate(-135.5)" font-size="6.5" font-weight="bold" text-anchor="middle" dy="0.35em" fill="#111" stroke="#111" stroke-width="0.2">b</text>
<text transform="translate(74.35 210.89) rotate(-135.5)" font-size="6.5" font-weight="bold" text-anchor="middle" dy="0.35em" fill="#111" stroke="#111" stroke-width="0.2">k</text>
<text transform="translate(102.31 216.12) rotate(-149.8)" font-size="6.5" font-weight="bold" text-anchor="middle" dy="0.35em" fill="#111" stroke="#111" stroke-width="0.2">j1</text>
<text transform="translate(117 230.51) rotate(-161)" font-size="6.5" font-weight="bold" text-anchor="middle" dy="0.35em" fill="#111" stroke="#111" stroke-width="0.2">u</text>
<text transform="translate(119.28 223.89) rotate(-161)" font-size="6.5" font-weight="bold" text-anchor="middle" dy="0.35em" fill="#111" stroke="#111" stroke-width="0.2">p1</text>
<text transform="translate(134.71 242.38) rotate(-171.8)" font-size="6.5" font-weight="bold" text-anchor="middle" dy="0.35em" fill="#111" stroke="#111" stroke-width="0.2">m</text>
<text transform="translate(135.71 235.45) rotate(-171.8)" font-size="6.5" font-weight="bold" text-anchor="middle" dy="0.35em" fill="#111" stroke="#111" stroke-width="0.2">r</text>
<text transform="translate(133.31 227.56) rotate(-169.7)" font-size="6.5" font-weight="bold" text-anchor="middle" dy="0.35em" fill="#111" stroke="#111" stroke-width="0.2">i1</text>
<text transform="translate(140.41 228.58) rotate(-174)" font-size="6.5" font-weight="bold" text-anchor="middle" dy="0.35em" fill="#111" stroke="#111" stroke-width="0.2">d1</text>
<text transform="translate(198.4 32.86) rotate(25.5)" font-size="6.5" font-weight="bold" text-anchor="middle" dy="0.35em" fill="#111" stroke="#111" stroke-width="0.2">i</text>
<text transform="translate(195.17 39.63) rotate(25.5)" font-size="6.5" font-weight="bold" text-anchor="middle" dy="0.35em" fill="#111" stroke="#111" stroke-width="0.2">x</text>
<text transform="translate(191.94 46.4) rotate(25.5)" font-size="6.5" font-weight="bold" text-anchor="middle" dy="0.35em" fill="#111" stroke="#111" stroke-width="0.2">c1</text>
<text transform="translate(204.55 54.71) rotate(34.5)" font-size="6.5" font-weight="bold" text-anchor="middle" dy="0.35em" fill="#111" stroke="#111" stroke-width="0.2">z</text>
<text transform="translate(210.17 58.89) rotate(38.7)" font-size="6.5" font-weight="bold" text-anchor="middle" dy="0.35em" fill="#111" stroke="#111" stroke-width="0.2">o1</text>
<text transform="translate(220.77 68.79) rotate(47.4)" font-size="6.5" font-weight="bold" text-anchor="middle" dy="0.35em" fill="#111" stroke="#111" stroke-width="0.2">b1</text>
<text transform="translate(232 83.69) rotate(58.6)" font-size="6.5" font-weight="bold" text-anchor="middle" dy="0.35em" fill="#111" stroke="#111" stroke-width="0.2">k1</text>
<text transform="translate(246.1 97.34) rotate(69.3)" font-size="6.5" font-weight="bold" text-anchor="middle" dy="0.35em" fill="#111" stroke="#111" stroke-width="0.2">s</text>
<text transform="translate(239.83 99.71) rotate(69.3)" font-size="6.5" font-weight="bold" text-anchor="middle" dy="0.35em" fill="#111" stroke="#111" stroke-width="0.2">n1</text>
<text transform="translate(247 116.99) rotate(80.3)" font-size="6.5" font-weight="bold" text-anchor="middle" dy="0.35em" fill="#111" stroke="#111" stroke-width="0.2">w</text>
<text transform="translate(259.78 143.07) rotate(95)" font-size="6.5" font-weight="bold" text-anchor="middle" dy="0.35em" fill="#111" stroke="#111" stroke-width="0.2">l</text>
<text transform="translate(252.61 142.44) rotate(95)" font-size="6.5" font-weight="bold" text-anchor="middle" dy="0.35em" fill="#111" stroke="#111" stroke-width="0.2">q</text>
<text transform="translate(245.64 141.83) rotate(95)" font-size="6.5" font-weight="bold" text-anchor="middle" dy="0.35em" fill="#111" stroke="#111" stroke-width="0.2">h1</text>
<text transform="translate(247.44 161.51) rotate(106.1)" font-size="6.5" font-weight="bold" text-anchor="middle" dy="0.35em" fill="#111" stroke="#111" stroke-width="0.2">t</text>
</g>
<rect x="272.8" y="46.45" width="5" height="1.9" fill="#1f77b4"/>
<text x="281.6" y="48.7" font-size="6.95" fill="#000" stroke="#000" stroke-width="0.22">a : p__Firmicutes</text>
<rect x="272.8" y="56.08" width="5" height="1.9" fill="#2ca02c"/>
<text x="281.6" y="58.33" font-size="6.95" fill="#000" stroke="#000" stroke-width="0.22">c : c__Limnochordia</text>
<rect x="272.8" y="65.72" width="5" height="1.9" fill="#2ca02c"/>
<text x="281.6" y="67.97" font-size="6.95" fill="#000" stroke="#000" stroke-width="0.22">e : o__11-24</text>
<rect x="272.8" y="75.35" width="5" height="1.9" fill="#1f77b4"/>
<text x="281.6" y="77.6" font-size="6.95" fill="#000" stroke="#000" stroke-width="0.22">g : o__Bacillales</text>
<rect x="272.8" y="84.98" width="5" height="1.9" fill="#1f77b4"/>
<text x="281.6" y="87.23" font-size="6.95" fill="#000" stroke="#000" stroke-width="0.22">i : o__Chthoniobacterales</text>
<rect x="272.8" y="94.61" width="5" height="1.9" fill="#ff7f0e"/>
<text x="281.6" y="96.86" font-size="6.95" fill="#000" stroke="#000" stroke-width="0.22">k : o__IMCC26256</text>
<rect x="272.8" y="104.25" width="5" height="1.9" fill="#ff7f0e"/>
<text x="281.6" y="106.5" font-size="6.95" fill="#000" stroke="#000" stroke-width="0.22">m : o__Pseudonocardiales</text>
<rect x="272.8" y="113.88" width="5" height="1.9" fill="#1f77b4"/>
<text x="281.6" y="116.13" font-size="6.95" fill="#000" stroke="#000" stroke-width="0.22">o : f__Bacillaceae</text>
<rect x="272.8" y="123.51" width="5" height="1.9" fill="#2ca02c"/>
<text x="281.6" y="125.76" font-size="6.95" fill="#000" stroke="#000" stroke-width="0.22">q : f__Legionellaceae</text>
<rect x="272.8" y="133.15" width="5" height="1.9" fill="#ff7f0e"/>
<text x="281.6" y="135.4" font-size="6.95" fill="#000" stroke="#000" stroke-width="0.22">s : f__Rhodomicrobiaceae</text>
<rect x="272.8" y="142.78" width="5" height="1.9" fill="#1f77b4"/>
<text x="281.6" y="145.03" font-size="6.95" fill="#000" stroke="#000" stroke-width="0.22">u : f__Streptosporangiaceae</text>
<rect x="272.8" y="152.41" width="5" height="1.9" fill="#1f77b4"/>
<text x="281.6" y="154.66" font-size="6.95" fill="#000" stroke="#000" stroke-width="0.22">w : f__URHD0088</text>
<rect x="272.8" y="162.05" width="5" height="1.9" fill="#ff7f0e"/>
<text x="281.6" y="164.3" font-size="6.95" fill="#000" stroke="#000" stroke-width="0.22">y : f__type_III</text>
<rect x="272.8" y="171.68" width="5" height="1.9" fill="#1f77b4"/>
<text x="281.6" y="173.93" font-size="6.95" fill="#000" stroke="#000" stroke-width="0.22">a1 : g__Bacillus</text>
<rect x="272.8" y="181.31" width="5" height="1.9" fill="#1f77b4"/>
<text x="281.6" y="183.56" font-size="6.95" fill="#000" stroke="#000" stroke-width="0.22">c1 : g__Candidatus_Xiphinematobacter</text>
<rect x="272.8" y="190.94" width="5" height="1.9" fill="#ff7f0e"/>
<text x="281.6" y="193.19" font-size="6.95" fill="#000" stroke="#000" stroke-width="0.22">e1 : g__Dinghuibacter</text>
<rect x="272.8" y="200.58" width="5" height="1.9" fill="#1f77b4"/>
<text x="281.6" y="202.83" font-size="6.95" fill="#000" stroke="#000" stroke-width="0.22">g1 : g__Inquilinus</text>
<rect x="272.8" y="210.21" width="5" height="1.9" fill="#ff7f0e"/>
<text x="281.6" y="212.46" font-size="6.95" fill="#000" stroke="#000" stroke-width="0.22">i1 : g__Longimycelium</text>
<rect x="272.8" y="219.84" width="5" height="1.9" fill="#ff7f0e"/>
<text x="281.6" y="222.09" font-size="6.95" fill="#000" stroke="#000" stroke-width="0.22">k1 : g__Novosphingobium</text>
<rect x="272.8" y="229.48" width="5" height="1.9" fill="#1f77b4"/>
<text x="281.6" y="231.73" font-size="6.95" fill="#000" stroke="#000" stroke-width="0.22">m1 : g__Psychrobacillus</text>
<rect x="272.8" y="239.11" width="5" height="1.9" fill="#1f77b4"/>
<text x="281.6" y="241.36" font-size="6.95" fill="#000" stroke="#000" stroke-width="0.22">o1 : g__Rhodovastum</text>
<rect x="272.8" y="248.74" width="5" height="1.9" fill="#ff7f0e"/>
<text x="281.6" y="250.99" font-size="6.95" fill="#000" stroke="#000" stroke-width="0.22">q1 : g__Thermosporothrix</text>
<rect x="400.5" y="46.45" width="5" height="1.9" fill="#ff7f0e"/>
<text x="409.3" y="48.7" font-size="6.95" fill="#000" stroke="#000" stroke-width="0.22">b : c__Acidimicrobiia</text>
<rect x="400.5" y="56.08" width="5" height="1.9" fill="#ff7f0e"/>
<text x="409.3" y="58.33" font-size="6.95" fill="#000" stroke="#000" stroke-width="0.22">d : c__Sulfobacillia</text>
<rect x="400.5" y="65.72" width="5" height="1.9" fill="#1f77b4"/>
<text x="409.3" y="67.97" font-size="6.95" fill="#000" stroke="#000" stroke-width="0.22">f : o__Azospirillales</text>
<rect x="400.5" y="75.35" width="5" height="1.9" fill="#2ca02c"/>
<text x="409.3" y="77.6" font-size="6.95" fill="#000" stroke="#000" stroke-width="0.22">h : o__Candidatus_Kaiserbacteria</text>
<rect x="400.5" y="84.98" width="5" height="1.9" fill="#ff7f0e"/>
<text x="409.3" y="87.23" font-size="6.95" fill="#000" stroke="#000" stroke-width="0.22">j : o__Entomoplasmatales</text>
<rect x="400.5" y="94.61" width="5" height="1.9" fill="#2ca02c"/>
<text x="409.3" y="96.86" font-size="6.95" fill="#000" stroke="#000" stroke-width="0.22">l : o__Legionellales</text>
<rect x="400.5" y="104.25" width="5" height="1.9" fill="#ff7f0e"/>
<text x="409.3" y="106.5" font-size="6.95" fill="#000" stroke="#000" stroke-width="0.22">n : o__Sulfobacillales</text>
<rect x="400.5" y="113.88" width="5" height="1.9" fill="#1f77b4"/>
<text x="409.3" y="116.13" font-size="6.95" fill="#000" stroke="#000" stroke-width="0.22">p : f__Inquilinaceae</text>
<rect x="400.5" y="123.51" width="5" height="1.9" fill="#ff7f0e"/>
<text x="409.3" y="125.76" font-size="6.95" fill="#000" stroke="#000" stroke-width="0.22">r : f__Pseudonocardiaceae</text>
<rect x="400.5" y="133.15" width="5" height="1.9" fill="#2ca02c"/>
<text x="409.3" y="135.4" font-size="6.95" fill="#000" stroke="#000" stroke-width="0.22">t : f__SC-I-84</text>
<rect x="400.5" y="142.78" width="5" height="1.9" fill="#ff7f0e"/>
<text x="409.3" y="145.03" font-size="6.95" fill="#000" stroke="#000" stroke-width="0.22">v : f__Sulfobacillaceae</text>
<rect x="400.5" y="152.41" width="5" height="1.9" fill="#1f77b4"/>
<text x="409.3" y="154.66" font-size="6.95" fill="#000" stroke="#000" stroke-width="0.22">x : f__Xiphinematobacteraceae</text>
<rect x="400.5" y="162.05" width="5" height="1.9" fill="#ff7f0e"/>
<text x="409.3" y="164.3" font-size="6.95" fill="#000" stroke="#000" stroke-width="0.22">z : g__Acidicaldus</text>
<rect x="400.5" y="171.68" width="5" height="1.9" fill="#2ca02c"/>
<text x="409.3" y="173.93" font-size="6.95" fill="#000" stroke="#000" stroke-width="0.22">b1 : g__Candidatus_Paracaedibacter</text>
<rect x="400.5" y="181.31" width="5" height="1.9" fill="#1f77b4"/>
<text x="409.3" y="183.56" font-size="6.95" fill="#000" stroke="#000" stroke-width="0.22">d1 : g__Crossiella</text>
<rect x="400.5" y="190.94" width="5" height="1.9" fill="#ff7f0e"/>
<text x="409.3" y="193.19" font-size="6.95" fill="#000" stroke="#000" stroke-width="0.22">f1 : g__Edaphobacter</text>
<rect x="400.5" y="200.58" width="5" height="1.9" fill="#2ca02c"/>
<text x="409.3" y="202.83" font-size="6.95" fill="#000" stroke="#000" stroke-width="0.22">h1 : g__Legionella</text>
<rect x="400.5" y="210.21" width="5" height="1.9" fill="#1f77b4"/>
<text x="409.3" y="212.46" font-size="6.95" fill="#000" stroke="#000" stroke-width="0.22">j1 : g__Micromonospora</text>
<rect x="400.5" y="219.84" width="5" height="1.9" fill="#ff7f0e"/>
<text x="409.3" y="222.09" font-size="6.95" fill="#000" stroke="#000" stroke-width="0.22">l1 : g__Pedosphaera</text>
<rect x="400.5" y="229.48" width="5" height="1.9" fill="#ff7f0e"/>
<text x="409.3" y="231.73" font-size="6.95" fill="#000" stroke="#000" stroke-width="0.22">n1 : g__Rhodomicrobium</text>
<rect x="400.5" y="239.11" width="5" height="1.9" fill="#1f77b4"/>
<text x="409.3" y="241.36" font-size="6.95" fill="#000" stroke="#000" stroke-width="0.22">p1 : g__Sphaerisporangium</text>
<rect x="400.5" y="248.74" width="5" height="1.9" fill="#1f77b4"/>
<text x="409.3" y="250.99" font-size="6.95" fill="#000" stroke="#000" stroke-width="0.22">r1 : g__ZOR0006</text>
<g>
<path d="M130.8 381.74L90.77 320.1A106 106 0 0 0 84.71 493.66L128.94 434.96A32.5 32.5 0 0 1 130.8 381.74Z" fill="#1f77b4" fill-opacity="0.19" stroke="#1f77b4" stroke-opacity="0.45" stroke-width="0.5"/>
<path d="M143.49 393.49L114.38 303.37A111 111 0 0 0 112.18 304.11L143.17 393.6A16.3 16.3 0 0 1 143.49 393.49Z" fill="#ff7f0e" fill-opacity="0.35" stroke="#ff7f0e" stroke-opacity="0.52" stroke-width="0.35"/>
<path d="M129.95 435.69L88.29 495.63A105.5 105.5 0 0 0 90.89 497.38L130.75 436.23A32.5 32.5 0 0 1 129.95 435.69Z" fill="#ff7f0e" fill-opacity="0.38" stroke="#ff7f0e" stroke-opacity="0.57" stroke-width="0.35"/>
<path d="M144.68 376.73L135.92 302.74A107 107 0 0 0 117.48 306.59L139.08 377.9A32.5 32.5 0 0 1 144.68 376.73Z" fill="#ff7f0e" fill-opacity="0.22" stroke="#ff7f0e" stroke-opacity="0.33" stroke-width="0.35"/>
<path d="M142.79 360.74L136.63 308.7A101 101 0 0 0 119.22 312.34L134.41 362.49A48.6 48.6 0 0 1 142.79 360.74Z" fill="#ff7f0e" fill-opacity="0.25" stroke="#ff7f0e" stroke-opacity="0.38" stroke-width="0.35"/>
<path d="M131.78 346.39L123.99 317.22A95 95 0 0 0 120.96 318.08L129.72 346.98A64.8 64.8 0 0 1 131.78 346.39Z" fill="#ff7f0e" fill-opacity="0.3" stroke="#ff7f0e" stroke-opacity="0.45" stroke-width="0.35"/>
<path d="M127.55 330.55L125.67 323.5A88.5 88.5 0 0 0 122.85 324.3L124.96 331.29A81.2 81.2 0 0 1 127.55 330.55Z" fill="#ff7f0e" fill-opacity="0.2" stroke="#ff7f0e" stroke-opacity="0.3" stroke-width="0.35"/>
<path d="M140.88 344.65L137.33 314.66A95 95 0 0 0 134.21 315.08L138.75 344.94A64.8 64.8 0 0 1 140.88 344.65Z" fill="#ff7f0e" fill-opacity="0.3" stroke="#ff7f0e" stroke-opacity="0.45" stroke-width="0.35"/>
<path d="M112.7 376.14L75.2 341.71A99.5 99.5 0 0 0 73.01 344.18L111.63 377.34A48.6 48.6 0 0 1 112.7 376.14Z" fill="#ff7f0e" fill-opacity="0.34" stroke="#ff7f0e" stroke-opacity="0.51" stroke-width="0.35"/>
<path d="M100.76 365.18L79.25 345.43A94 94 0 0 0 77.18 347.76L99.34 366.79A64.8 64.8 0 0 1 100.76 365.18Z" fill="#ff7f0e" fill-opacity="0.2" stroke="#ff7f0e" stroke-opacity="0.3" stroke-width="0.35"/>
<path d="M90.84 379.43L65.3 366.33A93.5 93.5 0 0 0 63.93 369.12L89.89 381.36A64.8 64.8 0 0 1 90.84 379.43Z" fill="#ff7f0e" fill-opacity="0.36" stroke="#ff7f0e" stroke-opacity="0.54" stroke-width="0.35"/>
<path d="M87.21 387.96L60.07 378.64A93.5 93.5 0 0 0 59.11 381.59L86.55 390A64.8 64.8 0 0 1 87.21 387.96Z" fill="#1f77b4" fill-opacity="0.4" stroke="#1f77b4" stroke-opacity="0.6" stroke-width="0.35"/>
<path d="M67.46 403.83L60.18 403.37A88.5 88.5 0 0 0 60.04 406.3L67.34 406.52A81.2 81.2 0 0 1 67.46 403.83Z" fill="#ff7f0e" fill-opacity="0.35" stroke="#ff7f0e" stroke-opacity="0.52" stroke-width="0.35"/>
<path d="M68.33 421.91L61.13 423.07A88.5 88.5 0 0 0 61.64 425.96L68.81 424.56A81.2 81.2 0 0 1 68.33 421.91Z" fill="#ff7f0e" fill-opacity="0.35" stroke="#ff7f0e" stroke-opacity="0.52" stroke-width="0.35"/>
<path d="M70.09 430.08L63.04 431.98A88.5 88.5 0 0 0 63.84 434.8L70.83 432.67A81.2 81.2 0 0 1 70.09 430.08Z" fill="#2ca02c" fill-opacity="0.35" stroke="#2ca02c" stroke-opacity="0.52" stroke-width="0.35"/>
<path d="M72.82 438.43L66.02 441.08A88.5 88.5 0 0 0 67.13 443.79L73.84 440.92A81.2 81.2 0 0 1 72.82 438.43Z" fill="#ff7f0e" fill-opacity="0.35" stroke="#ff7f0e" stroke-opacity="0.52" stroke-width="0.35"/>
<path d="M94.81 445.28L71.03 461.35A93.5 93.5 0 0 0 72.81 463.89L96.04 447.04A64.8 64.8 0 0 1 94.81 445.28Z" fill="#1f77b4" fill-opacity="0.4" stroke="#1f77b4" stroke-opacity="0.6" stroke-width="0.35"/>
<path d="M81.22 454.47L75.17 458.55A88.5 88.5 0 0 0 76.86 460.96L82.77 456.67A81.2 81.2 0 0 1 81.22 454.47Z" fill="#1f77b4" fill-opacity="0.3" stroke="#1f77b4" stroke-opacity="0.45" stroke-width="0.35"/>
<path d="M95.71 470.7L90.97 476.25A88.5 88.5 0 0 0 93.23 478.12L97.79 472.42A81.2 81.2 0 0 1 95.71 470.7Z" fill="#1f77b4" fill-opacity="0.4" stroke="#1f77b4" stroke-opacity="0.6" stroke-width="0.35"/>
<path d="M121.19 485.47L118.74 492.35A88.5 88.5 0 0 0 121.52 493.29L123.75 486.33A81.2 81.2 0 0 1 121.19 485.47Z" fill="#2ca02c" fill-opacity="0.4" stroke="#2ca02c" stroke-opacity="0.6" stroke-width="0.35"/>
<path d="M158.25 344.94L162.56 316.56A93.5 93.5 0 0 0 159.49 316.15L156.12 344.65A64.8 64.8 0 0 1 158.25 344.94Z" fill="#ff7f0e" fill-opacity="0.35" stroke="#ff7f0e" stroke-opacity="0.52" stroke-width="0.35"/>
<path d="M160.71 328.72L161.81 321.51A88.5 88.5 0 0 0 158.9 321.11L158.04 328.36A81.2 81.2 0 0 1 160.71 328.72Z" fill="#ff7f0e" fill-opacity="0.25" stroke="#ff7f0e" stroke-opacity="0.38" stroke-width="0.35"/>
<path d="M171.88 348.56L182.24 321.8A93.5 93.5 0 0 0 179.33 320.73L169.86 347.82A64.8 64.8 0 0 1 171.88 348.56Z" fill="#ff7f0e" fill-opacity="0.35" stroke="#ff7f0e" stroke-opacity="0.52" stroke-width="0.35"/>
<path d="M177.8 333.27L180.43 326.46A88.5 88.5 0 0 0 177.68 325.45L175.27 332.34A81.2 81.2 0 0 1 177.8 333.27Z" fill="#ff7f0e" fill-opacity="0.25" stroke="#ff7f0e" stroke-opacity="0.38" stroke-width="0.35"/>
<path d="M187.36 357.15L204.27 334.58A93 93 0 0 0 201.78 332.77L185.62 355.89A64.8 64.8 0 0 1 187.36 357.15Z" fill="#2ca02c" fill-opacity="0.4" stroke="#2ca02c" stroke-opacity="0.6" stroke-width="0.35"/>
<path d="M197.2 344.02L201.58 338.18A88.5 88.5 0 0 0 199.2 336.46L195.02 342.44A81.2 81.2 0 0 1 197.2 344.02Z" fill="#1f77b4" fill-opacity="0.3" stroke="#1f77b4" stroke-opacity="0.45" stroke-width="0.35"/>
<path d="M200.08 369.78L222.53 352.71A93 93 0 0 0 220.62 350.28L198.75 368.09A64.8 64.8 0 0 1 200.08 369.78Z" fill="#ff7f0e" fill-opacity="0.35" stroke="#ff7f0e" stroke-opacity="0.52" stroke-width="0.35"/>
<path d="M213.14 359.85L218.95 355.43A88.5 88.5 0 0 0 217.13 353.13L211.47 357.73A81.2 81.2 0 0 1 213.14 359.85Z" fill="#ff7f0e" fill-opacity="0.25" stroke="#ff7f0e" stroke-opacity="0.38" stroke-width="0.35"/>
<path d="M193.61 390.91L240.85 371.97A99.5 99.5 0 0 0 239.57 368.93L192.98 389.43A48.6 48.6 0 0 1 193.61 390.91Z" fill="#ff7f0e" fill-opacity="0.35" stroke="#ff7f0e" stroke-opacity="0.52" stroke-width="0.35"/>
<path d="M208.64 384.88L235.75 374.02A94 94 0 0 0 234.54 371.14L207.81 382.9A64.8 64.8 0 0 1 208.64 384.88Z" fill="#ff7f0e" fill-opacity="0.25" stroke="#ff7f0e" stroke-opacity="0.38" stroke-width="0.35"/>
<path d="M223.87 378.78L230.64 376.06A88.5 88.5 0 0 0 229.51 373.36L222.82 376.3A81.2 81.2 0 0 1 223.87 378.78Z" fill="#ff7f0e" fill-opacity="0.25" stroke="#ff7f0e" stroke-opacity="0.38" stroke-width="0.35"/>
<path d="M195.67 420.72L245.55 433.11A100 100 0 0 0 248.49 410.13L197.1 409.55A48.6 48.6 0 0 1 195.67 420.72Z" fill="#ff7f0e" fill-opacity="0.28" stroke="#ff7f0e" stroke-opacity="0.42" stroke-width="0.35"/>
<path d="M212.51 419.08L241.85 423.7A94.5 94.5 0 0 0 242.99 410.07L213.3 409.74A64.8 64.8 0 0 1 212.51 419.08Z" fill="#ff7f0e" fill-opacity="0.25" stroke="#ff7f0e" stroke-opacity="0.38" stroke-width="0.35"/>
<path d="M211.39 424.62L240.21 431.78A94.5 94.5 0 0 0 240.92 428.73L211.87 422.53A64.8 64.8 0 0 1 211.39 424.62Z" fill="#ff7f0e" fill-opacity="0.3" stroke="#ff7f0e" stroke-opacity="0.45" stroke-width="0.35"/>
<path d="M229.42 415.79L236.69 416.41A88.5 88.5 0 0 0 237 409.46L229.7 409.43A81.2 81.2 0 0 1 229.42 415.79Z" fill="#ff7f0e" fill-opacity="0.25" stroke="#ff7f0e" stroke-opacity="0.38" stroke-width="0.35"/>
<path d="M228.63 422.12L235.84 423.3A88.5 88.5 0 0 0 236.69 416.41L229.42 415.79A81.2 81.2 0 0 1 228.63 422.12Z" fill="#1f77b4" fill-opacity="0.35" stroke="#1f77b4" stroke-opacity="0.52" stroke-width="0.35"/>
<path d="M219.28 448.8L225.64 452.38A88.5 88.5 0 0 0 227.04 449.8L220.56 446.43A81.2 81.2 0 0 1 219.28 448.8Z" fill="#ff7f0e" fill-opacity="0.4" stroke="#ff7f0e" stroke-opacity="0.6" stroke-width="0.35"/>
<path d="M206.56 465.76L211.78 470.87A88.5 88.5 0 0 0 213.8 468.73L208.41 463.81A81.2 81.2 0 0 1 206.56 465.76Z" fill="#1f77b4" fill-opacity="0.4" stroke="#1f77b4" stroke-opacity="0.6" stroke-width="0.35"/>
<path d="M183.46 463.56L198.67 487.3A93 93 0 0 0 201.24 485.6L185.25 462.37A64.8 64.8 0 0 1 183.46 463.56Z" fill="#1f77b4" fill-opacity="0.4" stroke="#1f77b4" stroke-opacity="0.6" stroke-width="0.35"/>
<path d="M192.31 477.37L196.25 483.52A88.5 88.5 0 0 0 198.69 481.89L194.55 475.88A81.2 81.2 0 0 1 192.31 477.37Z" fill="#1f77b4" fill-opacity="0.3" stroke="#1f77b4" stroke-opacity="0.45" stroke-width="0.35"/>
<path d="M167.5 470.95L175.77 497.91A93 93 0 0 0 178.7 496.96L169.54 470.29A64.8 64.8 0 0 1 167.5 470.95Z" fill="#ff7f0e" fill-opacity="0.35" stroke="#ff7f0e" stroke-opacity="0.52" stroke-width="0.35"/>
<path d="M172.31 486.63L174.45 493.61A88.5 88.5 0 0 0 177.24 492.7L174.87 485.8A81.2 81.2 0 0 1 172.31 486.63Z" fill="#ff7f0e" fill-opacity="0.25" stroke="#ff7f0e" stroke-opacity="0.38" stroke-width="0.35"/>
<path d="M149.56 457.59L150.67 508.48A99.5 99.5 0 0 0 153.97 508.35L151.17 457.53A48.6 48.6 0 0 1 149.56 457.59Z" fill="#ff7f0e" fill-opacity="0.4" stroke="#ff7f0e" stroke-opacity="0.6" stroke-width="0.35"/>
<path d="M149.91 473.78L150.55 502.98A94 94 0 0 0 153.67 502.86L152.06 473.7A64.8 64.8 0 0 1 149.91 473.78Z" fill="#ff7f0e" fill-opacity="0.25" stroke="#ff7f0e" stroke-opacity="0.38" stroke-width="0.35"/>
</g><g>
<line x1="136.11" y1="398.41" x2="123.79" y2="387.89" stroke="#222" stroke-width="0.5" stroke-linecap="butt"/>
<path d="M141.24 377.32A32.5 32.5 0 0 0 116.05 407.19" fill="none" stroke="#000" stroke-width="1.5" stroke-linecap="round"/>
<line x1="163.39" y1="415.63" x2="179.14" y2="419.85" stroke="#222" stroke-width="0.5" stroke-linecap="butt"/>
<path d="M156.14 377.41A32.5 32.5 0 1 1 130.37 435.98" fill="none" stroke="#000" stroke-width="1.6" stroke-linecap="round"/>
<line x1="141.24" y1="377.32" x2="138.56" y2="361.43" stroke="#1a1a1a" stroke-width="2.7" stroke-linecap="round"/>
<line x1="141.24" y1="377.32" x2="138.56" y2="361.43" stroke="#ff7f0e" stroke-width="1.85" stroke-linecap="round"/>
<line x1="138.56" y1="361.43" x2="135.36" y2="345.55" stroke="#1a1a1a" stroke-width="2.7" stroke-linecap="round"/>
<line x1="138.56" y1="361.43" x2="135.36" y2="345.55" stroke="#ff7f0e" stroke-width="1.85" stroke-linecap="round"/>
<path d="M139.82 344.78A64.8 64.8 0 0 0 130.97 346.62" fill="none" stroke="#000" stroke-width="1.5" stroke-linecap="round"/>
<line x1="130.97" y1="346.62" x2="126.25" y2="330.91" stroke="#1a1a1a" stroke-width="2.7" stroke-linecap="round"/>
<line x1="130.97" y1="346.62" x2="126.25" y2="330.91" stroke="#ff7f0e" stroke-width="1.85" stroke-linecap="round"/>
<line x1="116.05" y1="407.19" x2="99.98" y2="406.29" stroke="#222" stroke-width="0.5" stroke-linecap="butt"/>
<path d="M122.39 368.01A48.6 48.6 0 0 0 117.72 446.61" fill="none" stroke="#000" stroke-width="1.5" stroke-linecap="round"/>
<line x1="122.39" y1="368.01" x2="113.49" y2="354.47" stroke="#222" stroke-width="0.5" stroke-linecap="butt"/>
<line x1="112.16" y1="376.73" x2="100.04" y2="365.98" stroke="#1a1a1a" stroke-width="2.7" stroke-linecap="round"/>
<line x1="112.16" y1="376.73" x2="100.04" y2="365.98" stroke="#ff7f0e" stroke-width="1.85" stroke-linecap="round"/>
<line x1="103.53" y1="390.56" x2="90.36" y2="380.39" stroke="#222" stroke-width="0.5" stroke-linecap="butt"/>
<line x1="103.53" y1="390.56" x2="86.87" y2="388.98" stroke="#222" stroke-width="0.5" stroke-linecap="butt"/>
<line x1="99.94" y1="406.96" x2="83.75" y2="406.4" stroke="#222" stroke-width="0.5" stroke-linecap="butt"/>
<line x1="83.75" y1="406.4" x2="67.39" y2="405.17" stroke="#222" stroke-width="0.5" stroke-linecap="butt"/>
<line x1="104.78" y1="430.23" x2="90.11" y2="437.1" stroke="#222" stroke-width="0.5" stroke-linecap="butt"/>
<path d="M86.3 427.19A64.8 64.8 0 0 0 95.48 446.26" fill="none" stroke="#000" stroke-width="1.5" stroke-linecap="round"/>
<line x1="86.3" y1="427.19" x2="68.56" y2="423.24" stroke="#222" stroke-width="0.5" stroke-linecap="butt"/>
<line x1="86.3" y1="427.19" x2="70.45" y2="431.38" stroke="#222" stroke-width="0.5" stroke-linecap="butt"/>
<line x1="86.3" y1="427.19" x2="73.32" y2="439.68" stroke="#222" stroke-width="0.5" stroke-linecap="butt"/>
<line x1="95.48" y1="446.26" x2="81.98" y2="455.57" stroke="#1a1a1a" stroke-width="2.7" stroke-linecap="round"/>
<line x1="95.48" y1="446.26" x2="81.98" y2="455.57" stroke="#1f77b4" stroke-width="1.85" stroke-linecap="round"/>
<line x1="117.72" y1="446.61" x2="106.93" y2="458.71" stroke="#222" stroke-width="0.5" stroke-linecap="butt"/>
<line x1="106.93" y1="458.71" x2="96.74" y2="471.57" stroke="#222" stroke-width="0.5" stroke-linecap="butt"/>
<line x1="156.14" y1="377.41" x2="159.93" y2="361.76" stroke="#222" stroke-width="0.5" stroke-linecap="butt"/>
<line x1="159.93" y1="361.76" x2="163.96" y2="346.07" stroke="#222" stroke-width="0.5" stroke-linecap="butt"/>
<path d="M170.88 348.19A64.8 64.8 0 0 0 157.29 344.8" fill="none" stroke="#000" stroke-width="1.5" stroke-linecap="round"/>
<line x1="157.29" y1="344.8" x2="159.38" y2="328.53" stroke="#1a1a1a" stroke-width="2.7" stroke-linecap="round"/>
<line x1="157.29" y1="344.8" x2="159.38" y2="328.53" stroke="#ff7f0e" stroke-width="1.85" stroke-linecap="round"/>
<line x1="170.88" y1="348.19" x2="176.54" y2="332.79" stroke="#1a1a1a" stroke-width="2.7" stroke-linecap="round"/>
<line x1="170.88" y1="348.19" x2="176.54" y2="332.79" stroke="#ff7f0e" stroke-width="1.85" stroke-linecap="round"/>
<line x1="175.88" y1="391.49" x2="189.35" y2="382.67" stroke="#222" stroke-width="0.5" stroke-linecap="butt"/>
<path d="M195.93 398.4A48.6 48.6 0 0 0 177 369.63" fill="none" stroke="#000" stroke-width="1.5" stroke-linecap="round"/>
<line x1="177" y1="369.63" x2="186.5" y2="356.51" stroke="#222" stroke-width="0.5" stroke-linecap="butt"/>
<line x1="186.85" y1="379.15" x2="199.42" y2="368.93" stroke="#222" stroke-width="0.5" stroke-linecap="butt"/>
<line x1="199.42" y1="368.93" x2="216.08" y2="355.82" stroke="#1a1a1a" stroke-width="2.7" stroke-linecap="round"/>
<line x1="199.42" y1="368.93" x2="216.08" y2="355.82" stroke="#ff7f0e" stroke-width="1.85" stroke-linecap="round"/>
<line x1="193.4" y1="390.4" x2="223.3" y2="377.4" stroke="#1a1a1a" stroke-width="2.7" stroke-linecap="round"/>
<line x1="193.4" y1="390.4" x2="223.3" y2="377.4" stroke="#ff7f0e" stroke-width="1.85" stroke-linecap="round"/>
<line x1="179.28" y1="419.42" x2="194.53" y2="424.58" stroke="#222" stroke-width="0.5" stroke-linecap="butt"/>
<path d="M191.17 432.26A48.6 48.6 0 0 0 196.54 416.35" fill="none" stroke="#000" stroke-width="1.5" stroke-linecap="round"/>
<line x1="196.54" y1="416.35" x2="212.54" y2="418.91" stroke="#1a1a1a" stroke-width="2.7" stroke-linecap="round"/>
<line x1="196.54" y1="416.35" x2="212.54" y2="418.91" stroke="#ff7f0e" stroke-width="1.85" stroke-linecap="round"/>
<path d="M211.64 423.58A64.8 64.8 0 0 0 213.09 414.2" fill="none" stroke="#000" stroke-width="1.5" stroke-linecap="round"/>
<line x1="213.09" y1="414.2" x2="229.67" y2="411.27" stroke="#1a1a1a" stroke-width="2.25" stroke-linecap="round"/>
<line x1="213.09" y1="414.2" x2="229.67" y2="411.27" stroke="#ff7f0e" stroke-width="1.4" stroke-linecap="round"/>
<line x1="213.09" y1="414.2" x2="228.91" y2="420.3" stroke="#222" stroke-width="0.5" stroke-linecap="butt"/>
<line x1="191.17" y1="432.26" x2="205.72" y2="439.42" stroke="#222" stroke-width="0.5" stroke-linecap="butt"/>
<line x1="205.72" y1="439.42" x2="219.93" y2="447.62" stroke="#222" stroke-width="0.5" stroke-linecap="butt"/>
<line x1="160.09" y1="439.36" x2="165.84" y2="454.4" stroke="#222" stroke-width="0.5" stroke-linecap="butt"/>
<path d="M150.37 457.56A48.6 48.6 0 0 0 179.61 446.34" fill="none" stroke="#000" stroke-width="1.5" stroke-linecap="round"/>
<line x1="150.37" y1="457.56" x2="150.76" y2="473.76" stroke="#1a1a1a" stroke-width="2.7" stroke-linecap="round"/>
<line x1="150.37" y1="457.56" x2="150.76" y2="473.76" stroke="#ff7f0e" stroke-width="1.85" stroke-linecap="round"/>
<line x1="163.6" y1="455.2" x2="168.63" y2="470.59" stroke="#222" stroke-width="0.5" stroke-linecap="butt"/>
<line x1="168.63" y1="470.59" x2="173.59" y2="486.23" stroke="#1a1a1a" stroke-width="2.7" stroke-linecap="round"/>
<line x1="168.63" y1="470.59" x2="173.59" y2="486.23" stroke="#ff7f0e" stroke-width="1.85" stroke-linecap="round"/>
<line x1="179.61" y1="446.34" x2="189.98" y2="458.78" stroke="#222" stroke-width="0.5" stroke-linecap="butt"/>
<path d="M184.55 462.85A64.8 64.8 0 0 0 195.19 453.93" fill="none" stroke="#000" stroke-width="1.5" stroke-linecap="round"/>
<line x1="195.19" y1="453.93" x2="207.5" y2="464.79" stroke="#222" stroke-width="0.5" stroke-linecap="butt"/>
<line x1="184.55" y1="462.85" x2="196.09" y2="480.63" stroke="#1a1a1a" stroke-width="2.7" stroke-linecap="round"/>
<line x1="184.55" y1="462.85" x2="196.09" y2="480.63" stroke="#1f77b4" stroke-width="1.85" stroke-linecap="round"/>
<line x1="138.35" y1="439.87" x2="133.16" y2="455.12" stroke="#222" stroke-width="0.5" stroke-linecap="butt"/>
<line x1="133.16" y1="455.12" x2="127.94" y2="470.45" stroke="#222" stroke-width="0.5" stroke-linecap="butt"/>
<line x1="127.94" y1="470.45" x2="122.47" y2="485.91" stroke="#222" stroke-width="0.5" stroke-linecap="butt"/>
</g><g>
<circle cx="148.5" cy="409" r="0.55" fill="#333"/>
<circle cx="136.11" cy="398.41" r="2.3" fill="#f2f200" stroke="#222" stroke-width="0.45"/>
<circle cx="143.33" cy="393.54" r="1.7" fill="#ff7f0e" stroke="#222" stroke-width="0.45"/>
<circle cx="163.39" cy="415.63" r="2.5" fill="#f2f200" stroke="#222" stroke-width="0.45"/>
<circle cx="141.24" cy="377.32" r="2.4" fill="#ff7f0e" stroke="#222" stroke-width="0.45"/>
<circle cx="116.05" cy="407.19" r="2.6" fill="#1f77b4" stroke="#222" stroke-width="0.45"/>
<circle cx="130.37" cy="435.98" r="1.3" fill="#ff7f0e" stroke="#222" stroke-width="0.45"/>
<circle cx="138.35" cy="439.87" r="1.3" fill="#f2f200" stroke="#222" stroke-width="0.45"/>
<circle cx="160.09" cy="439.36" r="2" fill="#f2f200" stroke="#222" stroke-width="0.45"/>
<circle cx="179.28" cy="419.42" r="2.3" fill="#f2f200" stroke="#222" stroke-width="0.45"/>
<circle cx="175.88" cy="391.49" r="2.1" fill="#f2f200" stroke="#222" stroke-width="0.45"/>
<circle cx="156.14" cy="377.41" r="2.1" fill="#f2f200" stroke="#222" stroke-width="0.45"/>
<circle cx="138.56" cy="361.43" r="2.1" fill="#ff7f0e" stroke="#222" stroke-width="0.45"/>
<circle cx="122.39" cy="368.01" r="2" fill="#f2f200" stroke="#222" stroke-width="0.45"/>
<circle cx="112.16" cy="376.73" r="1.8" fill="#ff7f0e" stroke="#222" stroke-width="0.45"/>
<circle cx="103.53" cy="390.56" r="2.2" fill="#f2f200" stroke="#222" stroke-width="0.45"/>
<circle cx="99.94" cy="406.96" r="1.3" fill="#f2f200" stroke="#222" stroke-width="0.45"/>
<circle cx="104.78" cy="430.23" r="2.1" fill="#f2f200" stroke="#222" stroke-width="0.45"/>
<circle cx="117.72" cy="446.61" r="2" fill="#f2f200" stroke="#222" stroke-width="0.45"/>
<circle cx="133.16" cy="455.12" r="1.2" fill="#f2f200" stroke="#222" stroke-width="0.45"/>
<circle cx="150.37" cy="457.56" r="1.5" fill="#ff7f0e" stroke="#222" stroke-width="0.45"/>
<circle cx="163.6" cy="455.2" r="1.1" fill="#f2f200" stroke="#222" stroke-width="0.45"/>
<circle cx="179.61" cy="446.34" r="1.5" fill="#f2f200" stroke="#222" stroke-width="0.45"/>
<circle cx="191.17" cy="432.26" r="2.2" fill="#f2f200" stroke="#222" stroke-width="0.45"/>
<circle cx="196.54" cy="416.35" r="1.8" fill="#ff7f0e" stroke="#222" stroke-width="0.45"/>
<circle cx="195.93" cy="398.4" r="2.1" fill="#f2f200" stroke="#222" stroke-width="0.45"/>
<circle cx="193.4" cy="390.4" r="1.7" fill="#ff7f0e" stroke="#222" stroke-width="0.45"/>
<circle cx="186.85" cy="379.15" r="1.2" fill="#f2f200" stroke="#222" stroke-width="0.45"/>
<circle cx="177" cy="369.63" r="1.7" fill="#f2f200" stroke="#222" stroke-width="0.45"/>
<circle cx="159.93" cy="361.76" r="1.8" fill="#f2f200" stroke="#222" stroke-width="0.45"/>
<circle cx="130.97" cy="346.62" r="2.5" fill="#ff7f0e" stroke="#222" stroke-width="0.45"/>
<circle cx="139.82" cy="344.78" r="1.1" fill="#ff7f0e" stroke="#222" stroke-width="0.45"/>
<circle cx="113.49" cy="354.47" r="1.9" fill="#f2f200" stroke="#222" stroke-width="0.45"/>
<circle cx="100.04" cy="365.98" r="1.5" fill="#ff7f0e" stroke="#222" stroke-width="0.45"/>
<circle cx="90.36" cy="380.39" r="1.9" fill="#ff7f0e" stroke="#222" stroke-width="0.45"/>
<circle cx="86.87" cy="388.98" r="1.8" fill="#1f77b4" stroke="#222" stroke-width="0.45"/>
<circle cx="83.75" cy="406.4" r="1.1" fill="#f2f200" stroke="#222" stroke-width="0.45"/>
<circle cx="86.3" cy="427.19" r="2.2" fill="#f2f200" stroke="#222" stroke-width="0.45"/>
<circle cx="95.48" cy="446.26" r="1.9" fill="#1f77b4" stroke="#222" stroke-width="0.45"/>
<circle cx="106.93" cy="458.71" r="1.9" fill="#f2f200" stroke="#222" stroke-width="0.45"/>
<circle cx="127.94" cy="470.45" r="1.1" fill="#f2f200" stroke="#222" stroke-width="0.45"/>
<circle cx="150.76" cy="473.76" r="1.5" fill="#ff7f0e" stroke="#222" stroke-width="0.45"/>
<circle cx="195.19" cy="453.93" r="1.2" fill="#f2f200" stroke="#222" stroke-width="0.45"/>
<circle cx="205.72" cy="439.42" r="1.8" fill="#f2f200" stroke="#222" stroke-width="0.45"/>
<circle cx="213.09" cy="414.2" r="2.1" fill="#ff7f0e" stroke="#222" stroke-width="0.45"/>
<circle cx="211.64" cy="423.58" r="1.2" fill="#ff7f0e" stroke="#222" stroke-width="0.45"/>
<circle cx="208.28" cy="383.99" r="1.4" fill="#ff7f0e" stroke="#222" stroke-width="0.45"/>
<circle cx="186.5" cy="356.51" r="1.8" fill="#2ca02c" stroke="#222" stroke-width="0.45"/>
<circle cx="170.88" cy="348.19" r="1.6" fill="#ff7f0e" stroke="#222" stroke-width="0.45"/>
<circle cx="157.29" cy="344.8" r="1.6" fill="#ff7f0e" stroke="#222" stroke-width="0.45"/>
<circle cx="126.25" cy="330.91" r="2.2" fill="#ff7f0e" stroke="#222" stroke-width="0.45"/>
<circle cx="67.39" cy="405.17" r="1.3" fill="#ff7f0e" stroke="#222" stroke-width="0.45"/>
<circle cx="68.56" cy="423.24" r="2" fill="#ff7f0e" stroke="#222" stroke-width="0.45"/>
<circle cx="70.45" cy="431.38" r="1.6" fill="#2ca02c" stroke="#222" stroke-width="0.45"/>
<circle cx="73.32" cy="439.68" r="1.7" fill="#ff7f0e" stroke="#222" stroke-width="0.45"/>
<circle cx="81.98" cy="455.57" r="1.5" fill="#1f77b4" stroke="#222" stroke-width="0.45"/>
<circle cx="96.74" cy="471.57" r="1.7" fill="#1f77b4" stroke="#222" stroke-width="0.45"/>
<circle cx="122.47" cy="485.91" r="1.5" fill="#2ca02c" stroke="#222" stroke-width="0.45"/>
<circle cx="173.59" cy="486.23" r="1.2" fill="#ff7f0e" stroke="#222" stroke-width="0.45"/>
<circle cx="207.5" cy="464.79" r="1.4" fill="#1f77b4" stroke="#222" stroke-width="0.45"/>
<circle cx="219.93" cy="447.62" r="1.8" fill="#ff7f0e" stroke="#222" stroke-width="0.45"/>
<circle cx="229.67" cy="411.27" r="1.7" fill="#ff7f0e" stroke="#222" stroke-width="0.45"/>
<circle cx="228.91" cy="420.3" r="1.3" fill="#1f77b4" stroke="#222" stroke-width="0.45"/>
<circle cx="223.3" cy="377.4" r="1.4" fill="#ff7f0e" stroke="#222" stroke-width="0.45"/>
<circle cx="197.11" cy="342.09" r="1.3" fill="#1f77b4" stroke="#222" stroke-width="0.45"/>
<circle cx="176.54" cy="332.79" r="1.4" fill="#ff7f0e" stroke="#222" stroke-width="0.45"/>
<circle cx="159.38" cy="328.53" r="1.4" fill="#ff7f0e" stroke="#222" stroke-width="0.45"/>
</g><g font-family='&quot;Liberation Sans&quot;,Arial,sans-serif'>
<text transform="translate(113.76 305.16) rotate(-18.5)" font-size="4.6" font-weight="bold" text-anchor="middle" dy="0.35em" fill="#111" stroke="#111" stroke-width="0.2">a</text>
<text transform="translate(127.47 307.45) rotate(-11.7)" font-size="4.6" font-weight="bold" text-anchor="middle" dy="0.35em" fill="#111" stroke="#111" stroke-width="0.2">d</text>
<text transform="translate(128.71 313.43) rotate(-11.7)" font-size="4.6" font-weight="bold" text-anchor="middle" dy="0.35em" fill="#111" stroke="#111" stroke-width="0.2">h</text>
<text transform="translate(123.74 320.91) rotate(-15.7)" font-size="4.6" font-weight="bold" text-anchor="middle" dy="0.35em" fill="#111" stroke="#111" stroke-width="0.2">y</text>
<text transform="translate(125.08 326.77) rotate(-15.9)" font-size="4.6" font-weight="bold" text-anchor="middle" dy="0.35em" fill="#111" stroke="#111" stroke-width="0.2">n1</text>
<text transform="translate(135.81 318.69) rotate(-8)" font-size="4.6" font-weight="bold" text-anchor="middle" dy="0.35em" fill="#111" stroke="#111" stroke-width="0.2">j</text>
<text transform="translate(45.99 402.73) rotate(-86.5)" font-size="4.6" font-weight="bold" text-anchor="middle" dy="0.35em" fill="#111" stroke="#111" stroke-width="0.2">b</text>
<text transform="translate(91.05 494.49) rotate(-146.1)" font-size="4.6" font-weight="bold" text-anchor="middle" dy="0.35em" fill="#111" stroke="#111" stroke-width="0.2">c</text>
<text transform="translate(76.34 344.93) rotate(-48.4)" font-size="4.6" font-weight="bold" text-anchor="middle" dy="0.35em" fill="#111" stroke="#111" stroke-width="0.2">e</text>
<text transform="translate(80.45 348.58) rotate(-48.4)" font-size="4.6" font-weight="bold" text-anchor="middle" dy="0.35em" fill="#111" stroke="#111" stroke-width="0.2">o</text>
<text transform="translate(66.85 368.82) rotate(-63.8)" font-size="4.6" font-weight="bold" text-anchor="middle" dy="0.35em" fill="#111" stroke="#111" stroke-width="0.2">x</text>
<text transform="translate(61.95 380.88) rotate(-72)" font-size="4.6" font-weight="bold" text-anchor="middle" dy="0.35em" fill="#111" stroke="#111" stroke-width="0.2">s</text>
<text transform="translate(63.29 404.98) rotate(-87.3)" font-size="4.6" font-weight="bold" text-anchor="middle" dy="0.35em" fill="#111" stroke="#111" stroke-width="0.2">h1</text>
<text transform="translate(64.52 423.96) rotate(-100.1)" font-size="4.6" font-weight="bold" text-anchor="middle" dy="0.35em" fill="#111" stroke="#111" stroke-width="0.2">a1</text>
<text transform="translate(66.5 432.51) rotate(-106)" font-size="4.6" font-weight="bold" text-anchor="middle" dy="0.35em" fill="#111" stroke="#111" stroke-width="0.2">q1</text>
<text transform="translate(69.52 441.23) rotate(-112.2)" font-size="4.6" font-weight="bold" text-anchor="middle" dy="0.35em" fill="#111" stroke="#111" stroke-width="0.2">b1</text>
<text transform="translate(74.37 460.91) rotate(-125)" font-size="4.6" font-weight="bold" text-anchor="middle" dy="0.35em" fill="#111" stroke="#111" stroke-width="0.2">v</text>
<text transform="translate(78.63 457.93) rotate(-125)" font-size="4.6" font-weight="bold" text-anchor="middle" dy="0.35em" fill="#111" stroke="#111" stroke-width="0.2">o1</text>
<text transform="translate(93.81 475.11) rotate(-140.4)" font-size="4.6" font-weight="bold" text-anchor="middle" dy="0.35em" fill="#111" stroke="#111" stroke-width="0.2">e1</text>
<text transform="translate(120.99 490.27) rotate(-161.3)" font-size="4.6" font-weight="bold" text-anchor="middle" dy="0.35em" fill="#111" stroke="#111" stroke-width="0.2">m1</text>
<text transform="translate(160.63 319.32) rotate(7.7)" font-size="4.6" font-weight="bold" text-anchor="middle" dy="0.35em" fill="#111" stroke="#111" stroke-width="0.2">p</text>
<text transform="translate(159.93 324.47) rotate(7.7)" font-size="4.6" font-weight="bold" text-anchor="middle" dy="0.35em" fill="#111" stroke="#111" stroke-width="0.2">f1</text>
<text transform="translate(179.75 324.07) rotate(20.2)" font-size="4.6" font-weight="bold" text-anchor="middle" dy="0.35em" fill="#111" stroke="#111" stroke-width="0.2">n</text>
<text transform="translate(177.95 328.95) rotate(20.2)" font-size="4.6" font-weight="bold" text-anchor="middle" dy="0.35em" fill="#111" stroke="#111" stroke-width="0.2">g1</text>
<text transform="translate(201.45 335.85) rotate(35.9)" font-size="4.6" font-weight="bold" text-anchor="middle" dy="0.35em" fill="#111" stroke="#111" stroke-width="0.2">k</text>
<text transform="translate(199.22 338.93) rotate(35.9)" font-size="4.6" font-weight="bold" text-anchor="middle" dy="0.35em" fill="#111" stroke="#111" stroke-width="0.2">z</text>
<text transform="translate(219.46 353.16) rotate(51.8)" font-size="4.6" font-weight="bold" text-anchor="middle" dy="0.35em" fill="#111" stroke="#111" stroke-width="0.2">r</text>
<text transform="translate(215.69 356.13) rotate(51.8)" font-size="4.6" font-weight="bold" text-anchor="middle" dy="0.35em" fill="#111" stroke="#111" stroke-width="0.2">i1</text>
<text transform="translate(237.46 371.6) rotate(67.2)" font-size="4.6" font-weight="bold" text-anchor="middle" dy="0.35em" fill="#111" stroke="#111" stroke-width="0.2">g</text>
<text transform="translate(232.39 373.74) rotate(67.2)" font-size="4.6" font-weight="bold" text-anchor="middle" dy="0.35em" fill="#111" stroke="#111" stroke-width="0.2">q</text>
<text transform="translate(227.32 375.87) rotate(67.2)" font-size="4.6" font-weight="bold" text-anchor="middle" dy="0.35em" fill="#111" stroke="#111" stroke-width="0.2">d1</text>
<text transform="translate(244.78 420.82) rotate(97)" font-size="4.6" font-weight="bold" text-anchor="middle" dy="0.35em" fill="#111" stroke="#111" stroke-width="0.2">f</text>
<text transform="translate(239.51 416.32) rotate(94.6)" font-size="4.6" font-weight="bold" text-anchor="middle" dy="0.35em" fill="#111" stroke="#111" stroke-width="0.2">l</text>
<text transform="translate(237.39 429.85) rotate(103.2)" font-size="4.6" font-weight="bold" text-anchor="middle" dy="0.35em" fill="#111" stroke="#111" stroke-width="0.2">t</text>
<text transform="translate(234.27 411.4) rotate(91.6)" font-size="4.6" font-weight="bold" text-anchor="middle" dy="0.35em" fill="#111" stroke="#111" stroke-width="0.2">c1</text>
<text transform="translate(233.47 420.94) rotate(98)" font-size="4.6" font-weight="bold" text-anchor="middle" dy="0.35em" fill="#111" stroke="#111" stroke-width="0.2">j1</text>
<text transform="translate(223.97 449.81) rotate(118.4)" font-size="4.6" font-weight="bold" text-anchor="middle" dy="0.35em" fill="#111" stroke="#111" stroke-width="0.2">p1</text>
<text transform="translate(211.06 468.16) rotate(133.4)" font-size="4.6" font-weight="bold" text-anchor="middle" dy="0.35em" fill="#111" stroke="#111" stroke-width="0.2">r1</text>
<text transform="translate(198.47 484.21) rotate(146.4)" font-size="4.6" font-weight="bold" text-anchor="middle" dy="0.35em" fill="#111" stroke="#111" stroke-width="0.2">u</text>
<text transform="translate(195.81 480.21) rotate(146.4)" font-size="4.6" font-weight="bold" text-anchor="middle" dy="0.35em" fill="#111" stroke="#111" stroke-width="0.2">k1</text>
<text transform="translate(176.4 494.88) rotate(162)" font-size="4.6" font-weight="bold" text-anchor="middle" dy="0.35em" fill="#111" stroke="#111" stroke-width="0.2">y</text>
<text transform="translate(175.01 490.6) rotate(162)" font-size="4.6" font-weight="bold" text-anchor="middle" dy="0.35em" fill="#111" stroke="#111" stroke-width="0.2">l1</text>
<text transform="translate(152.2 505.43) rotate(177.8)" font-size="4.6" font-weight="bold" text-anchor="middle" dy="0.35em" fill="#111" stroke="#111" stroke-width="0.2">i</text>
<text transform="translate(151.99 499.93) rotate(177.8)" font-size="4.6" font-weight="bold" text-anchor="middle" dy="0.35em" fill="#111" stroke="#111" stroke-width="0.2">w</text>
</g>
<rect x="262.5" y="299.65" width="5" height="1.9" fill="#ff7f0e"/>
<text x="270.1" y="301.9" font-size="6.95" fill="#000" stroke="#000" stroke-width="0.22">a : p__Glomeromycota</text>
<rect x="262.5" y="309.93" width="5" height="1.9" fill="#ff7f0e"/>
<text x="270.1" y="312.18" font-size="6.95" fill="#000" stroke="#000" stroke-width="0.22">c : c__Lecanoromycetes</text>
<rect x="262.5" y="320.21" width="5" height="1.9" fill="#ff7f0e"/>
<text x="270.1" y="322.46" font-size="6.95" fill="#000" stroke="#000" stroke-width="0.22">e : o__Auriculariales</text>
<rect x="262.5" y="330.49" width="5" height="1.9" fill="#ff7f0e"/>
<text x="270.1" y="332.74" font-size="6.95" fill="#000" stroke="#000" stroke-width="0.22">g : o__Chaetothyriales</text>
<rect x="262.5" y="340.77" width="5" height="1.9" fill="#ff7f0e"/>
<text x="270.1" y="343.02" font-size="6.95" fill="#000" stroke="#000" stroke-width="0.22">i : o__Venturiales</text>
<rect x="262.5" y="351.05" width="5" height="1.9" fill="#2ca02c"/>
<text x="270.1" y="353.3" font-size="6.95" fill="#000" stroke="#000" stroke-width="0.22">k : f__Chaetomiaceae</text>
<rect x="262.5" y="361.33" width="5" height="1.9" fill="#ff7f0e"/>
<text x="270.1" y="363.58" font-size="6.95" fill="#000" stroke="#000" stroke-width="0.22">m : f__Chaetothyriaceae</text>
<rect x="262.5" y="371.61" width="5" height="1.9" fill="#ff7f0e"/>
<text x="270.1" y="373.86" font-size="6.95" fill="#000" stroke="#000" stroke-width="0.22">o : f__Exidiaceae</text>
<rect x="262.5" y="381.89" width="5" height="1.9" fill="#ff7f0e"/>
<text x="270.1" y="384.14" font-size="6.95" fill="#000" stroke="#000" stroke-width="0.22">q : f__Herpotrichiellaceae</text>
<rect x="262.5" y="392.17" width="5" height="1.9" fill="#1f77b4"/>
<text x="270.1" y="394.42" font-size="6.95" fill="#000" stroke="#000" stroke-width="0.22">s : f__Hymenogastraceae</text>
<rect x="262.5" y="402.45" width="5" height="1.9" fill="#1f77b4"/>
<text x="270.1" y="404.7" font-size="6.95" fill="#000" stroke="#000" stroke-width="0.22">u : f__Periconiaceae</text>
<rect x="262.5" y="412.73" width="5" height="1.9" fill="#ff7f0e"/>
<text x="270.1" y="414.98" font-size="6.95" fill="#000" stroke="#000" stroke-width="0.22">w : f__Sympoventuriaceae</text>
<rect x="262.5" y="423.01" width="5" height="1.9" fill="#ff7f0e"/>
<text x="270.1" y="425.26" font-size="6.95" fill="#000" stroke="#000" stroke-width="0.22">y : f__Trimorphomycetaceae</text>
<rect x="262.5" y="433.29" width="5" height="1.9" fill="#ff7f0e"/>
<text x="270.1" y="435.54" font-size="6.95" fill="#000" stroke="#000" stroke-width="0.22">a1 : g__Aureoboletus</text>
<rect x="262.5" y="443.57" width="5" height="1.9" fill="#ff7f0e"/>
<text x="270.1" y="445.82" font-size="6.95" fill="#000" stroke="#000" stroke-width="0.22">c1 : g__Chaetosphaeria</text>
<rect x="262.5" y="453.85" width="5" height="1.9" fill="#1f77b4"/>
<text x="270.1" y="456.1" font-size="6.95" fill="#000" stroke="#000" stroke-width="0.22">e1 : g__Clavulina</text>
<rect x="262.5" y="464.13" width="5" height="1.9" fill="#ff7f0e"/>
<text x="270.1" y="466.38" font-size="6.95" fill="#000" stroke="#000" stroke-width="0.22">g1 : g__Elsinoaceae_gen_Incertae_sedis</text>
<rect x="262.5" y="474.41" width="5" height="1.9" fill="#ff7f0e"/>
<text x="270.1" y="476.66" font-size="6.95" fill="#000" stroke="#000" stroke-width="0.22">i1 : g__Glutinomyces</text>
<rect x="262.5" y="484.69" width="5" height="1.9" fill="#1f77b4"/>
<text x="270.1" y="486.94" font-size="6.95" fill="#000" stroke="#000" stroke-width="0.22">k1 : g__Periconia</text>
<rect x="262.5" y="494.97" width="5" height="1.9" fill="#2ca02c"/>
<text x="270.1" y="497.22" font-size="6.95" fill="#000" stroke="#000" stroke-width="0.22">m1 : g__Ramsbottomia</text>
<rect x="262.5" y="505.25" width="5" height="1.9" fill="#1f77b4"/>
<text x="270.1" y="507.5" font-size="6.95" fill="#000" stroke="#000" stroke-width="0.22">o1 : g__Scleroderma</text>
<rect x="262.5" y="515.53" width="5" height="1.9" fill="#2ca02c"/>
<text x="270.1" y="517.78" font-size="6.95" fill="#000" stroke="#000" stroke-width="0.22">q1 : g__Tylopilus</text>
<rect x="400.4" y="299.65" width="5" height="1.9" fill="#1f77b4"/>
<text x="408.4" y="301.9" font-size="6.95" fill="#000" stroke="#000" stroke-width="0.22">b : c__Agaricomycetes</text>
<rect x="400.4" y="309.93" width="5" height="1.9" fill="#ff7f0e"/>
<text x="408.4" y="312.18" font-size="6.95" fill="#000" stroke="#000" stroke-width="0.22">d : c__Tremellomycetes</text>
<rect x="400.4" y="320.21" width="5" height="1.9" fill="#ff7f0e"/>
<text x="408.4" y="322.46" font-size="6.95" fill="#000" stroke="#000" stroke-width="0.22">f : o__Chaetosphaeriales</text>
<rect x="400.4" y="330.49" width="5" height="1.9" fill="#ff7f0e"/>
<text x="408.4" y="332.74" font-size="6.95" fill="#000" stroke="#000" stroke-width="0.22">h : o__Tremellales</text>
<rect x="400.4" y="340.77" width="5" height="1.9" fill="#ff7f0e"/>
<text x="408.4" y="343.02" font-size="6.95" fill="#000" stroke="#000" stroke-width="0.22">j : f__Bulleribasidiaceae</text>
<rect x="400.4" y="351.05" width="5" height="1.9" fill="#ff7f0e"/>
<text x="408.4" y="353.3" font-size="6.95" fill="#000" stroke="#000" stroke-width="0.22">l : f__Chaetosphaeriaceae</text>
<rect x="400.4" y="361.33" width="5" height="1.9" fill="#ff7f0e"/>
<text x="408.4" y="363.58" font-size="6.95" fill="#000" stroke="#000" stroke-width="0.22">n : f__Elsinoaceae</text>
<rect x="400.4" y="371.61" width="5" height="1.9" fill="#ff7f0e"/>
<text x="408.4" y="373.86" font-size="6.95" fill="#000" stroke="#000" stroke-width="0.22">p : f__Glomerellaceae</text>
<rect x="400.4" y="381.89" width="5" height="1.9" fill="#ff7f0e"/>
<text x="408.4" y="384.14" font-size="6.95" fill="#000" stroke="#000" stroke-width="0.22">r : f__Hyaloscyphaceae</text>
<rect x="400.4" y="392.17" width="5" height="1.9" fill="#ff7f0e"/>
<text x="408.4" y="394.42" font-size="6.95" fill="#000" stroke="#000" stroke-width="0.22">t : f__Myxotrichaceae</text>
<rect x="400.4" y="402.45" width="5" height="1.9" fill="#1f77b4"/>
<text x="408.4" y="404.7" font-size="6.95" fill="#000" stroke="#000" stroke-width="0.22">v : f__Sclerodermataceae</text>
<rect x="400.4" y="412.73" width="5" height="1.9" fill="#ff7f0e"/>
<text x="408.4" y="414.98" font-size="6.95" fill="#000" stroke="#000" stroke-width="0.22">x : f__Tricholomataceae</text>
<rect x="400.4" y="423.01" width="5" height="1.9" fill="#1f77b4"/>
<text x="408.4" y="425.26" font-size="6.95" fill="#000" stroke="#000" stroke-width="0.22">z : g__Arcopilus</text>
<rect x="400.4" y="433.29" width="5" height="1.9" fill="#ff7f0e"/>
<text x="408.4" y="435.54" font-size="6.95" fill="#000" stroke="#000" stroke-width="0.22">b1 : g__Austroboletus</text>
<rect x="400.4" y="443.57" width="5" height="1.9" fill="#ff7f0e"/>
<text x="408.4" y="445.82" font-size="6.95" fill="#000" stroke="#000" stroke-width="0.22">d1 : g__Cladophialophora</text>
<rect x="400.4" y="453.85" width="5" height="1.9" fill="#ff7f0e"/>
<text x="408.4" y="456.1" font-size="6.95" fill="#000" stroke="#000" stroke-width="0.22">f1 : g__Colletotrichum</text>
<rect x="400.4" y="464.13" width="5" height="1.9" fill="#ff7f0e"/>
<text x="408.4" y="466.38" font-size="6.95" fill="#000" stroke="#000" stroke-width="0.22">h1 : g__Fomitopsis</text>
<rect x="400.4" y="474.41" width="5" height="1.9" fill="#ff7f0e"/>
<text x="408.4" y="476.66" font-size="6.95" fill="#000" stroke="#000" stroke-width="0.22">j1 : g__Oidiodendron</text>
<rect x="400.4" y="484.69" width="5" height="1.9" fill="#1f77b4"/>
<text x="408.4" y="486.94" font-size="6.95" fill="#000" stroke="#000" stroke-width="0.22">l1 : g__Phialophora</text>
<rect x="400.4" y="494.97" width="5" height="1.9" fill="#ff7f0e"/>
<text x="408.4" y="497.22" font-size="6.95" fill="#000" stroke="#000" stroke-width="0.22">n1 : g__Saitozyma</text>
<rect x="400.4" y="505.25" width="5" height="1.9" fill="#ff7f0e"/>
<text x="408.4" y="507.5" font-size="6.95" fill="#000" stroke="#000" stroke-width="0.22">p1 : g__Trichocomaceae_gen_Incertae_sedis</text>
<rect x="400.4" y="515.53" width="5" height="1.9" fill="#1f77b4"/>
<text x="408.4" y="517.78" font-size="6.95" fill="#000" stroke="#000" stroke-width="0.22">r1 : g__Westerdykella</text>
<rect x="95.4" y="549.9" width="123.65" height="4.85" fill="#1f77b4"/>
<text x="90.9" y="554.15" font-size="6.1" text-anchor="end" fill="#000" stroke="#000" stroke-width="0.22">p__Firmicutes</text>
<rect x="95.4" y="556.17" width="118.82" height="4.85" fill="#1f77b4"/>
<text x="90.9" y="560.43" font-size="6.1" text-anchor="end" fill="#000" stroke="#000" stroke-width="0.22">f__Xiphinematobacteraceae</text>
<rect x="95.4" y="562.45" width="118.82" height="4.85" fill="#1f77b4"/>
<text x="90.9" y="566.7" font-size="6.1" text-anchor="end" fill="#000" stroke="#000" stroke-width="0.22">g__Candidatus_Xiphinematobacter</text>
<rect x="95.4" y="568.73" width="118.47" height="4.85" fill="#1f77b4"/>
<text x="90.9" y="572.98" font-size="6.1" text-anchor="end" fill="#000" stroke="#000" stroke-width="0.22">o__Chthoniobacterales</text>
<rect x="95.4" y="575" width="112.6" height="4.85" fill="#1f77b4"/>
<text x="90.9" y="579.25" font-size="6.1" text-anchor="end" fill="#000" stroke="#000" stroke-width="0.22">o__Bacillales</text>
<rect x="95.4" y="581.27" width="110.53" height="4.85" fill="#1f77b4"/>
<text x="90.9" y="585.53" font-size="6.1" text-anchor="end" fill="#000" stroke="#000" stroke-width="0.22">f__Bacillaceae</text>
<rect x="95.4" y="587.55" width="110.53" height="4.85" fill="#1f77b4"/>
<text x="90.9" y="591.8" font-size="6.1" text-anchor="end" fill="#000" stroke="#000" stroke-width="0.22">g__Bacillus</text>
<rect x="95.4" y="593.82" width="105" height="4.85" fill="#1f77b4"/>
<text x="90.9" y="598.08" font-size="6.1" text-anchor="end" fill="#000" stroke="#000" stroke-width="0.22">f__URHD0088</text>
<rect x="95.4" y="600.1" width="96.37" height="4.85" fill="#1f77b4"/>
<text x="90.9" y="604.36" font-size="6.1" text-anchor="end" fill="#000" stroke="#000" stroke-width="0.22">g__Psychrobacillus</text>
<rect x="95.4" y="606.38" width="95.68" height="4.85" fill="#1f77b4"/>
<text x="90.9" y="610.63" font-size="6.1" text-anchor="end" fill="#000" stroke="#000" stroke-width="0.22">g__Inquilinus</text>
<rect x="95.4" y="612.65" width="140.92" height="4.85" fill="#ff7f0e"/>
<text x="90.9" y="616.9" font-size="6.1" text-anchor="end" fill="#000" stroke="#000" stroke-width="0.22">c__Acidimicrobiia</text>
<rect x="95.4" y="618.92" width="134.71" height="4.85" fill="#ff7f0e"/>
<text x="90.9" y="623.18" font-size="6.1" text-anchor="end" fill="#000" stroke="#000" stroke-width="0.22">o__IMCC26256</text>
<rect x="95.4" y="625.2" width="117.78" height="4.85" fill="#ff7f0e"/>
<text x="90.9" y="629.46" font-size="6.1" text-anchor="end" fill="#000" stroke="#000" stroke-width="0.22">g__Edaphobacter</text>
<rect x="95.4" y="631.48" width="107.76" height="4.85" fill="#ff7f0e"/>
<text x="90.9" y="635.73" font-size="6.1" text-anchor="end" fill="#000" stroke="#000" stroke-width="0.22">f__Rhodomicrobiaceae</text>
<rect x="95.4" y="637.75" width="107.76" height="4.85" fill="#ff7f0e"/>
<text x="90.9" y="642" font-size="6.1" text-anchor="end" fill="#000" stroke="#000" stroke-width="0.22">g__Rhodomicrobium</text>
<rect x="95.4" y="644.02" width="106.73" height="4.85" fill="#ff7f0e"/>
<text x="90.9" y="648.28" font-size="6.1" text-anchor="end" fill="#000" stroke="#000" stroke-width="0.22">o__Pseudonocardiales</text>
<rect x="95.4" y="650.3" width="106.73" height="4.85" fill="#ff7f0e"/>
<text x="90.9" y="654.55" font-size="6.1" text-anchor="end" fill="#000" stroke="#000" stroke-width="0.22">f__Pseudonocardiaceae</text>
<rect x="95.4" y="656.58" width="100.17" height="4.85" fill="#ff7f0e"/>
<text x="90.9" y="660.83" font-size="6.1" text-anchor="end" fill="#000" stroke="#000" stroke-width="0.22">g__Longimycelium</text>
<rect x="95.4" y="662.85" width="93.26" height="4.85" fill="#ff7f0e"/>
<text x="90.9" y="667.11" font-size="6.1" text-anchor="end" fill="#000" stroke="#000" stroke-width="0.22">g__Dinghuibacter</text>
<rect x="95.4" y="669.12" width="91.53" height="4.85" fill="#ff7f0e"/>
<text x="90.9" y="673.38" font-size="6.1" text-anchor="end" fill="#000" stroke="#000" stroke-width="0.22">c__Sulfobacillia</text>
<rect x="95.4" y="675.4" width="94.29" height="4.85" fill="#2ca02c"/>
<text x="90.9" y="679.65" font-size="6.1" text-anchor="end" fill="#000" stroke="#000" stroke-width="0.22">c__Limnochordia</text>
<rect x="95.4" y="681.67" width="94.29" height="4.85" fill="#2ca02c"/>
<text x="90.9" y="685.93" font-size="6.1" text-anchor="end" fill="#000" stroke="#000" stroke-width="0.22">g__Hydrogenispora</text>
<rect x="95.4" y="687.95" width="92.57" height="4.85" fill="#2ca02c"/>
<text x="90.9" y="692.21" font-size="6.1" text-anchor="end" fill="#000" stroke="#000" stroke-width="0.22">g__Legionella</text>
<rect x="95.4" y="694.23" width="92.57" height="4.85" fill="#2ca02c"/>
<text x="90.9" y="698.48" font-size="6.1" text-anchor="end" fill="#000" stroke="#000" stroke-width="0.22">o__Legionellales</text>
<rect x="95.4" y="700.5" width="92.57" height="4.85" fill="#2ca02c"/>
<text x="90.9" y="704.75" font-size="6.1" text-anchor="end" fill="#000" stroke="#000" stroke-width="0.22">f__Legionellaceae</text>
<rect x="95.4" y="706.77" width="90.15" height="4.85" fill="#2ca02c"/>
<text x="90.9" y="711.03" font-size="6.1" text-anchor="end" fill="#000" stroke="#000" stroke-width="0.22">f__SC-I-84</text>
<rect x="95.4" y="713.05" width="89.11" height="4.85" fill="#2ca02c"/>
<text x="90.9" y="717.3" font-size="6.1" text-anchor="end" fill="#000" stroke="#000" stroke-width="0.22">g__Candidatus_Paracaedibacter</text>
<rect x="95.4" y="719.33" width="81.86" height="4.85" fill="#2ca02c"/>
<text x="90.9" y="723.58" font-size="6.1" text-anchor="end" fill="#000" stroke="#000" stroke-width="0.22">o__11-24</text>
<rect x="95.4" y="725.6" width="76.68" height="4.85" fill="#2ca02c"/>
<text x="90.9" y="729.86" font-size="6.1" text-anchor="end" fill="#000" stroke="#000" stroke-width="0.22">o__Candidatus_Kaiserbacteria</text>
<line x1="95.1" y1="732.1" x2="268.4" y2="732.1" stroke="#222" stroke-width="0.6"/>
<line x1="95.4" y1="732.1" x2="95.4" y2="734.1" stroke="#222" stroke-width="0.5"/>
<text x="95.4" y="739.7" font-size="5.4" text-anchor="middle" fill="#000" stroke="#000" stroke-width="0.22">0</text>
<line x1="129.94" y1="732.1" x2="129.94" y2="734.1" stroke="#222" stroke-width="0.5"/>
<text x="129.94" y="739.7" font-size="5.4" text-anchor="middle" fill="#000" stroke="#000" stroke-width="0.22">1</text>
<line x1="164.48" y1="732.1" x2="164.48" y2="734.1" stroke="#222" stroke-width="0.5"/>
<text x="164.48" y="739.7" font-size="5.4" text-anchor="middle" fill="#000" stroke="#000" stroke-width="0.22">2</text>
<line x1="199.02" y1="732.1" x2="199.02" y2="734.1" stroke="#222" stroke-width="0.5"/>
<text x="199.02" y="739.7" font-size="5.4" text-anchor="middle" fill="#000" stroke="#000" stroke-width="0.22">3</text>
<line x1="233.56" y1="732.1" x2="233.56" y2="734.1" stroke="#222" stroke-width="0.5"/>
<text x="233.56" y="739.7" font-size="5.4" text-anchor="middle" fill="#000" stroke="#000" stroke-width="0.22">4</text>
<line x1="268.1" y1="732.1" x2="268.1" y2="734.1" stroke="#222" stroke-width="0.5"/>
<text x="268.1" y="739.7" font-size="5.4" text-anchor="middle" fill="#000" stroke="#000" stroke-width="0.22">5</text>
<text x="179" y="746.7" font-size="6.3" text-anchor="middle" fill="#000" stroke="#000" stroke-width="0.22">LDA Score</text>
<rect x="362.4" y="566" width="136.99" height="5.1" fill="#1f77b4"/>
<text x="359.2" y="570.47" font-size="6.4" text-anchor="end" fill="#000" stroke="#000" stroke-width="0.22">c__Agaricomycetes</text>
<rect x="362.4" y="573.25" width="111.19" height="5.1" fill="#1f77b4"/>
<text x="359.2" y="577.72" font-size="6.4" text-anchor="end" fill="#000" stroke="#000" stroke-width="0.22">f__Sclerodermataceae</text>
<rect x="362.4" y="580.5" width="111.19" height="5.1" fill="#1f77b4"/>
<text x="359.2" y="584.97" font-size="6.4" text-anchor="end" fill="#000" stroke="#000" stroke-width="0.22">g__Scleroderma</text>
<rect x="362.4" y="587.75" width="92.83" height="5.1" fill="#1f77b4"/>
<text x="359.2" y="592.22" font-size="6.4" text-anchor="end" fill="#000" stroke="#000" stroke-width="0.22">g__Clavulina</text>
<rect x="362.4" y="595" width="88.05" height="5.1" fill="#1f77b4"/>
<text x="359.2" y="599.47" font-size="6.4" text-anchor="end" fill="#000" stroke="#000" stroke-width="0.22">g__Periconia</text>
<rect x="362.4" y="602.25" width="88.05" height="5.1" fill="#1f77b4"/>
<text x="359.2" y="606.72" font-size="6.4" text-anchor="end" fill="#000" stroke="#000" stroke-width="0.22">f__Hymenogastraceae</text>
<rect x="362.4" y="609.5" width="88.05" height="5.1" fill="#1f77b4"/>
<text x="359.2" y="613.97" font-size="6.4" text-anchor="end" fill="#000" stroke="#000" stroke-width="0.22">f__Periconiaceae</text>
<rect x="362.4" y="616.75" width="86.18" height="5.1" fill="#1f77b4"/>
<text x="359.2" y="621.22" font-size="6.4" text-anchor="end" fill="#000" stroke="#000" stroke-width="0.22">g__Phialophora</text>
<rect x="362.4" y="624" width="82.19" height="5.1" fill="#1f77b4"/>
<text x="359.2" y="628.47" font-size="6.4" text-anchor="end" fill="#000" stroke="#000" stroke-width="0.22">g__Arcopilus</text>
<rect x="362.4" y="631.25" width="80.6" height="5.1" fill="#1f77b4"/>
<text x="359.2" y="635.72" font-size="6.4" text-anchor="end" fill="#000" stroke="#000" stroke-width="0.22">g__Westerdykella</text>
<rect x="362.4" y="638.5" width="130.87" height="5.1" fill="#ff7f0e"/>
<text x="359.2" y="642.97" font-size="6.4" text-anchor="end" fill="#000" stroke="#000" stroke-width="0.22">o__Tremellales</text>
<rect x="362.4" y="645.75" width="130.87" height="5.1" fill="#ff7f0e"/>
<text x="359.2" y="650.22" font-size="6.4" text-anchor="end" fill="#000" stroke="#000" stroke-width="0.22">f__Trimorphomycetaceae</text>
<rect x="362.4" y="653" width="130.87" height="5.1" fill="#ff7f0e"/>
<text x="359.2" y="657.47" font-size="6.4" text-anchor="end" fill="#000" stroke="#000" stroke-width="0.22">g__Saitozyma</text>
<rect x="362.4" y="660.25" width="130.87" height="5.1" fill="#ff7f0e"/>
<text x="359.2" y="664.72" font-size="6.4" text-anchor="end" fill="#000" stroke="#000" stroke-width="0.22">c__Tremellomycetes</text>
<rect x="362.4" y="667.5" width="110.12" height="5.1" fill="#ff7f0e"/>
<text x="359.2" y="671.97" font-size="6.4" text-anchor="end" fill="#000" stroke="#000" stroke-width="0.22">f__Hyaloscyphaceae</text>
<rect x="362.4" y="674.75" width="109.06" height="5.1" fill="#ff7f0e"/>
<text x="359.2" y="679.22" font-size="6.4" text-anchor="end" fill="#000" stroke="#000" stroke-width="0.22">g__Glutinomyces</text>
<rect x="362.4" y="682" width="103.21" height="5.1" fill="#ff7f0e"/>
<text x="359.2" y="686.47" font-size="6.4" text-anchor="end" fill="#000" stroke="#000" stroke-width="0.22">f__Tricholomataceae</text>
<rect x="362.4" y="689.25" width="100.28" height="5.1" fill="#ff7f0e"/>
<text x="359.2" y="693.72" font-size="6.4" text-anchor="end" fill="#000" stroke="#000" stroke-width="0.22">g__Oidiodendron</text>
<rect x="362.4" y="696.5" width="100.28" height="5.1" fill="#ff7f0e"/>
<text x="359.2" y="700.97" font-size="6.4" text-anchor="end" fill="#000" stroke="#000" stroke-width="0.22">f__Myxotrichaceae</text>
<rect x="362.4" y="703.75" width="99.48" height="5.1" fill="#ff7f0e"/>
<text x="359.2" y="708.22" font-size="6.4" text-anchor="end" fill="#000" stroke="#000" stroke-width="0.22">g__Austroboletus</text>
<rect x="362.4" y="711" width="92.04" height="5.1" fill="#2ca02c"/>
<text x="359.2" y="715.47" font-size="6.4" text-anchor="end" fill="#000" stroke="#000" stroke-width="0.22">g__Ramsbottomia</text>
<rect x="362.4" y="718.25" width="87.25" height="5.1" fill="#2ca02c"/>
<text x="359.2" y="722.72" font-size="6.4" text-anchor="end" fill="#000" stroke="#000" stroke-width="0.22">g__Tylopilus</text>
<rect x="362.4" y="725.5" width="86.98" height="5.1" fill="#2ca02c"/>
<text x="359.2" y="729.97" font-size="6.4" text-anchor="end" fill="#000" stroke="#000" stroke-width="0.22">f__Chaetomiaceae</text>
<line x1="362.1" y1="731.8" x2="522.3" y2="731.8" stroke="#222" stroke-width="0.6"/>
<line x1="362.4" y1="731.8" x2="362.4" y2="733.8" stroke="#222" stroke-width="0.5"/>
<text x="362.4" y="739.4" font-size="5.4" text-anchor="middle" fill="#000" stroke="#000" stroke-width="0.22">0</text>
<line x1="389" y1="731.8" x2="389" y2="733.8" stroke="#222" stroke-width="0.5"/>
<text x="389" y="739.4" font-size="5.4" text-anchor="middle" fill="#000" stroke="#000" stroke-width="0.22">1</text>
<line x1="415.6" y1="731.8" x2="415.6" y2="733.8" stroke="#222" stroke-width="0.5"/>
<text x="415.6" y="739.4" font-size="5.4" text-anchor="middle" fill="#000" stroke="#000" stroke-width="0.22">2</text>
<line x1="442.2" y1="731.8" x2="442.2" y2="733.8" stroke="#222" stroke-width="0.5"/>
<text x="442.2" y="739.4" font-size="5.4" text-anchor="middle" fill="#000" stroke="#000" stroke-width="0.22">3</text>
<line x1="468.8" y1="731.8" x2="468.8" y2="733.8" stroke="#222" stroke-width="0.5"/>
<text x="468.8" y="739.4" font-size="5.4" text-anchor="middle" fill="#000" stroke="#000" stroke-width="0.22">4</text>
<line x1="495.4" y1="731.8" x2="495.4" y2="733.8" stroke="#222" stroke-width="0.5"/>
<text x="495.4" y="739.4" font-size="5.4" text-anchor="middle" fill="#000" stroke="#000" stroke-width="0.22">5</text>
<line x1="522" y1="731.8" x2="522" y2="733.8" stroke="#222" stroke-width="0.5"/>
<text x="522" y="739.4" font-size="5.4" text-anchor="middle" fill="#000" stroke="#000" stroke-width="0.22">6</text>
<text x="442" y="746.4" font-size="6.3" text-anchor="middle" fill="#000" stroke="#000" stroke-width="0.22">LDA Score</text>
</svg>
</body></html>
